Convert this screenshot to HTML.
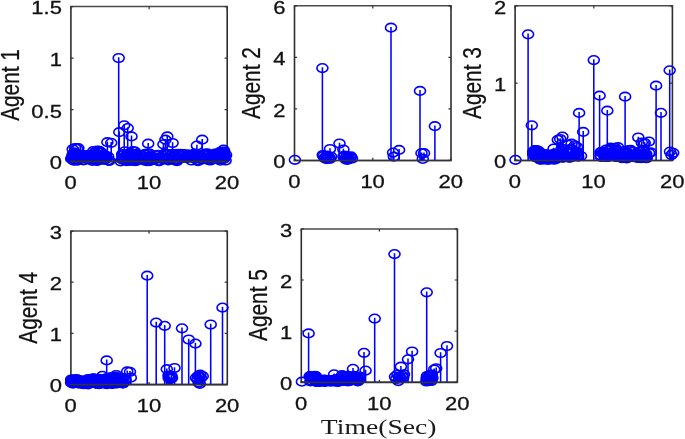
<!DOCTYPE html>
<html lang="en">
<head>
<meta charset="utf-8">
<title>Agents stem plots</title>
<style>
html,body{margin:0;padding:0;background:#fff;}
body{width:685px;height:439px;overflow:hidden;}
svg{display:block;}
</style>
</head>
<body>
<svg width="685" height="439" viewBox="0 0 685 439">
<rect width="685" height="439" fill="#fff"/>
<g>
<path d="M70.2 6.6H227.9M70.2 161.3H227.9" stroke="#4a4a4a" stroke-width="1.5" fill="none"/>
<path d="M70.9 6.6V161.3M227.2 6.6V161.3" stroke="#2e2e2e" stroke-width="1.6" fill="none"/>
<path d="M70.9 161.3v-2.6M70.9 6.6v2.6M149.1 161.3v-2.6M149.1 6.6v2.6M227.2 161.3v-2.6M227.2 6.6v2.6M70.9 6.6h2.6M227.2 6.6h-2.6M70.9 58.2h2.6M227.2 58.2h-2.6M70.9 109.7h2.6M227.2 109.7h-2.6M70.9 161.3h2.6M227.2 161.3h-2.6" stroke="#333" stroke-width="1.2" fill="none"/>
<path d="M118.7 161.3V57.2M119.3 161.3V131.4M124.2 161.3V124.5M127.7 161.3V127.3M131.5 161.3V135.6M107.4 161.3V141.4M111.2 161.3V142.0M148.2 161.3V142.9M167.3 161.3V135.6M165.4 161.3V138.9M172.6 161.3V142.2M163.4 161.3V143.5M202.2 161.3V138.9M196.9 161.3V144.8M75.0 161.3V147.2M77.0 161.3V147.8M97.0 161.3V149.8M99.5 161.3V150.0M83.6 161.3V159.6M96.4 161.3V159.9M91.9 161.3V158.3M73.3 161.3V157.3M72.5 161.3V157.8M73.7 161.3V159.9M87.6 161.3V154.8M75.8 161.3V159.2M95.5 161.3V153.8M93.5 161.3V158.1M104.5 161.3V158.8M76.6 161.3V159.7M83.0 161.3V154.9M78.0 161.3V156.7M95.9 161.3V158.2M92.4 161.3V160.0M73.3 161.3V159.3M97.5 161.3V157.8M83.3 161.3V156.7M88.7 161.3V158.7M102.0 161.3V155.9M80.5 161.3V156.8M91.5 161.3V154.4M99.4 161.3V158.8M109.2 161.3V159.7M87.3 161.3V155.4M76.9 161.3V157.4M72.5 161.3V156.1M100.8 161.3V156.8M105.1 161.3V158.6M98.1 161.3V156.7M93.6 161.3V157.7M103.8 161.3V153.9M89.5 161.3V156.1M73.4 161.3V155.8M96.2 161.3V153.5M103.1 161.3V158.8M86.0 161.3V156.1M71.9 161.3V157.6M77.6 161.3V159.7M73.3 161.3V155.3M76.0 161.3V159.0M86.2 161.3V154.5M74.1 161.3V157.7M92.4 161.3V154.4M103.0 161.3V154.5M81.9 161.3V157.9M85.0 161.3V154.4M108.4 161.3V159.6M77.9 161.3V159.1M80.1 161.3V157.4M94.0 161.3V158.9M71.2 161.3V157.9M85.4 161.3V156.9M108.2 161.3V155.9M91.1 161.3V156.5M97.4 161.3V160.0M106.1 161.3V155.2M105.1 161.3V155.1M86.3 161.3V158.0M75.0 161.3V156.4M72.9 161.3V154.9M74.0 161.3V154.4M74.9 161.3V155.0M72.5 161.3V154.4M73.2 161.3V152.9M72.7 161.3V148.4M76.8 161.3V154.5M74.3 161.3V153.1M75.0 161.3V154.6M78.4 161.3V147.3M75.8 161.3V152.0M73.1 161.3V154.7M96.4 161.3V154.2M101.3 161.3V154.7M93.2 161.3V150.3M98.3 161.3V154.7M98.4 161.3V155.1M98.3 161.3V150.1M101.6 161.3V151.9M95.6 161.3V153.7M94.7 161.3V151.4M98.3 161.3V151.4M96.3 161.3V154.4M207.4 161.3V152.6M211.7 161.3V154.4M208.1 161.3V155.0M145.9 161.3V156.9M124.9 161.3V158.8M149.3 161.3V155.4M222.6 161.3V157.5M220.6 161.3V152.6M222.5 161.3V158.2M145.2 161.3V159.2M142.7 161.3V159.3M187.7 161.3V153.5M210.4 161.3V157.2M190.7 161.3V154.4M130.9 161.3V155.7M217.7 161.3V154.6M200.9 161.3V157.3M140.8 161.3V154.5M157.0 161.3V154.4M224.2 161.3V157.9M164.2 161.3V153.0M198.2 161.3V159.5M135.4 161.3V159.7M217.2 161.3V154.4M137.4 161.3V154.2M225.1 161.3V155.7M158.9 161.3V156.7M224.1 161.3V155.8M177.4 161.3V153.1M167.6 161.3V153.7M208.9 161.3V159.3M148.5 161.3V158.7M147.3 161.3V156.3M149.3 161.3V157.7M135.8 161.3V153.4M159.2 161.3V157.4M183.4 161.3V153.4M166.3 161.3V153.3M174.8 161.3V156.8M168.3 161.3V159.5M122.4 161.3V154.4M140.1 161.3V157.3M198.3 161.3V156.6M156.3 161.3V156.9M180.4 161.3V154.6M133.2 161.3V156.6M148.1 161.3V158.8M203.2 161.3V157.0M181.1 161.3V154.8M218.0 161.3V157.5M186.4 161.3V157.0M175.9 161.3V155.4M169.6 161.3V156.8M172.3 161.3V153.1M195.6 161.3V153.7M221.1 161.3V158.9M180.9 161.3V153.1M210.4 161.3V159.7M134.8 161.3V157.6M129.6 161.3V159.1M129.7 161.3V155.6M204.5 161.3V153.5M138.2 161.3V155.2M191.5 161.3V159.7M214.9 161.3V152.8M145.1 161.3V153.0M163.9 161.3V157.2M226.1 161.3V154.1M139.0 161.3V157.6M176.2 161.3V158.4M142.6 161.3V158.5M180.3 161.3V157.6M123.9 161.3V158.4M187.6 161.3V157.0M128.8 161.3V152.6M204.9 161.3V152.8M133.0 161.3V158.9M126.2 161.3V154.6M150.5 161.3V159.8M166.4 161.3V153.4M208.2 161.3V158.9M137.7 161.3V153.3M182.0 161.3V155.3M194.4 161.3V157.7M129.6 161.3V153.1M188.7 161.3V154.4M130.8 161.3V153.9M129.0 161.3V153.8M169.7 161.3V158.4M180.2 161.3V153.2M150.2 161.3V159.8M177.4 161.3V159.1M133.5 161.3V159.6M127.3 161.3V159.3M154.8 161.3V158.6M201.9 161.3V158.7M174.6 161.3V159.5M199.1 161.3V156.6M141.9 161.3V157.3M220.3 161.3V159.9M208.2 161.3V157.6M174.1 161.3V154.1M163.4 161.3V157.0M194.4 161.3V152.7M158.1 161.3V154.1M196.3 161.3V155.9M164.6 161.3V158.3M127.7 161.3V159.8M129.4 161.3V155.0M148.9 161.3V159.6M130.9 161.3V154.0M213.6 161.3V155.6M151.7 161.3V159.1M152.8 161.3V157.4M138.6 161.3V157.5M149.7 161.3V152.9M224.3 161.3V156.7M147.7 161.3V152.8M154.6 161.3V158.2M122.1 161.3V158.0M171.9 161.3V157.1M143.1 161.3V157.0M122.5 161.3V158.9M131.4 161.3V157.9M154.0 161.3V159.1M183.6 161.3V156.8M201.0 161.3V155.7M197.3 161.3V153.7M163.0 161.3V158.5M225.6 161.3V159.7M198.2 161.3V155.8M126.6 161.3V154.1M215.8 161.3V156.0M199.2 161.3V154.3M136.7 161.3V156.9M175.1 161.3V154.1M206.7 161.3V154.2M183.4 161.3V153.5M193.8 161.3V155.4M136.0 161.3V158.2M133.0 161.3V154.1M220.9 161.3V151.6M221.9 161.3V151.2M219.9 161.3V155.2M224.3 161.3V150.7M220.1 161.3V152.2M222.4 161.3V155.0M223.5 161.3V154.0M214.1 161.3V154.0M223.4 161.3V154.3M223.5 161.3V148.9M220.0 161.3V153.2M219.8 161.3V151.2M223.9 161.3V151.6M222.1 161.3V154.9M215.1 161.3V154.0M223.6 161.3V153.7M221.1 161.3V155.2M213.9 161.3V153.9M130.7 161.3V152.0M130.8 161.3V154.1M128.7 161.3V153.3M128.1 161.3V154.9M133.6 161.3V154.5M134.7 161.3V150.6M122.2 161.3V153.3M132.7 161.3V150.4M127.8 161.3V154.2M124.7 161.3V150.5" stroke="#0000ff" stroke-width="1.55" fill="none"/>
<g fill="none" stroke="#0000ff" stroke-width="1.60">
<ellipse cx="118.7" cy="58.0" rx="5.5" ry="4.3"/>
<ellipse cx="119.3" cy="132.2" rx="5.5" ry="4.3"/>
<ellipse cx="124.2" cy="125.3" rx="5.5" ry="4.3"/>
<ellipse cx="127.7" cy="128.1" rx="5.5" ry="4.3"/>
<ellipse cx="131.5" cy="136.4" rx="5.5" ry="4.3"/>
<ellipse cx="107.4" cy="142.2" rx="5.5" ry="4.3"/>
<ellipse cx="111.2" cy="142.8" rx="5.5" ry="4.3"/>
<ellipse cx="148.2" cy="143.7" rx="5.5" ry="4.3"/>
<ellipse cx="167.3" cy="136.4" rx="5.5" ry="4.3"/>
<ellipse cx="165.4" cy="139.7" rx="5.5" ry="4.3"/>
<ellipse cx="172.6" cy="143.0" rx="5.5" ry="4.3"/>
<ellipse cx="163.4" cy="144.3" rx="5.5" ry="4.3"/>
<ellipse cx="202.2" cy="139.7" rx="5.5" ry="4.3"/>
<ellipse cx="196.9" cy="145.6" rx="5.5" ry="4.3"/>
<ellipse cx="75.0" cy="148.0" rx="5.5" ry="4.3"/>
<ellipse cx="77.0" cy="148.6" rx="5.5" ry="4.3"/>
<ellipse cx="97.0" cy="150.6" rx="5.5" ry="4.3"/>
<ellipse cx="99.5" cy="150.8" rx="5.5" ry="4.3"/>
<ellipse cx="120.6" cy="161.3" rx="5.5" ry="4.3"/>
<ellipse cx="83.6" cy="160.4" rx="5.5" ry="4.3"/>
<ellipse cx="96.4" cy="160.7" rx="5.5" ry="4.3"/>
<ellipse cx="91.9" cy="159.1" rx="5.5" ry="4.3"/>
<ellipse cx="73.3" cy="158.1" rx="5.5" ry="4.3"/>
<ellipse cx="72.5" cy="158.6" rx="5.5" ry="4.3"/>
<ellipse cx="73.7" cy="160.7" rx="5.5" ry="4.3"/>
<ellipse cx="87.6" cy="155.6" rx="5.5" ry="4.3"/>
<ellipse cx="75.8" cy="160.0" rx="5.5" ry="4.3"/>
<ellipse cx="95.5" cy="154.6" rx="5.5" ry="4.3"/>
<ellipse cx="93.5" cy="158.9" rx="5.5" ry="4.3"/>
<ellipse cx="109.1" cy="160.9" rx="5.5" ry="4.3"/>
<ellipse cx="104.5" cy="159.6" rx="5.5" ry="4.3"/>
<ellipse cx="76.6" cy="160.5" rx="5.5" ry="4.3"/>
<ellipse cx="83.0" cy="155.7" rx="5.5" ry="4.3"/>
<ellipse cx="78.0" cy="157.5" rx="5.5" ry="4.3"/>
<ellipse cx="95.9" cy="159.0" rx="5.5" ry="4.3"/>
<ellipse cx="92.4" cy="160.8" rx="5.5" ry="4.3"/>
<ellipse cx="73.3" cy="160.1" rx="5.5" ry="4.3"/>
<ellipse cx="97.5" cy="158.6" rx="5.5" ry="4.3"/>
<ellipse cx="83.3" cy="157.5" rx="5.5" ry="4.3"/>
<ellipse cx="88.7" cy="159.5" rx="5.5" ry="4.3"/>
<ellipse cx="102.0" cy="156.7" rx="5.5" ry="4.3"/>
<ellipse cx="80.5" cy="157.6" rx="5.5" ry="4.3"/>
<ellipse cx="91.5" cy="155.2" rx="5.5" ry="4.3"/>
<ellipse cx="99.4" cy="159.6" rx="5.5" ry="4.3"/>
<ellipse cx="109.2" cy="160.5" rx="5.5" ry="4.3"/>
<ellipse cx="87.3" cy="156.2" rx="5.5" ry="4.3"/>
<ellipse cx="76.9" cy="158.2" rx="5.5" ry="4.3"/>
<ellipse cx="72.5" cy="156.9" rx="5.5" ry="4.3"/>
<ellipse cx="100.8" cy="157.6" rx="5.5" ry="4.3"/>
<ellipse cx="105.1" cy="159.4" rx="5.5" ry="4.3"/>
<ellipse cx="98.1" cy="157.5" rx="5.5" ry="4.3"/>
<ellipse cx="93.6" cy="158.5" rx="5.5" ry="4.3"/>
<ellipse cx="103.8" cy="154.7" rx="5.5" ry="4.3"/>
<ellipse cx="89.5" cy="156.9" rx="5.5" ry="4.3"/>
<ellipse cx="73.4" cy="156.6" rx="5.5" ry="4.3"/>
<ellipse cx="96.2" cy="154.3" rx="5.5" ry="4.3"/>
<ellipse cx="103.1" cy="159.6" rx="5.5" ry="4.3"/>
<ellipse cx="86.0" cy="156.9" rx="5.5" ry="4.3"/>
<ellipse cx="71.9" cy="158.4" rx="5.5" ry="4.3"/>
<ellipse cx="77.6" cy="160.5" rx="5.5" ry="4.3"/>
<ellipse cx="73.3" cy="156.1" rx="5.5" ry="4.3"/>
<ellipse cx="76.0" cy="159.8" rx="5.5" ry="4.3"/>
<ellipse cx="86.2" cy="155.3" rx="5.5" ry="4.3"/>
<ellipse cx="74.1" cy="158.5" rx="5.5" ry="4.3"/>
<ellipse cx="92.4" cy="155.2" rx="5.5" ry="4.3"/>
<ellipse cx="103.0" cy="155.3" rx="5.5" ry="4.3"/>
<ellipse cx="81.9" cy="158.7" rx="5.5" ry="4.3"/>
<ellipse cx="85.0" cy="155.2" rx="5.5" ry="4.3"/>
<ellipse cx="108.4" cy="160.4" rx="5.5" ry="4.3"/>
<ellipse cx="77.9" cy="159.9" rx="5.5" ry="4.3"/>
<ellipse cx="80.1" cy="158.2" rx="5.5" ry="4.3"/>
<ellipse cx="94.0" cy="159.7" rx="5.5" ry="4.3"/>
<ellipse cx="71.2" cy="158.7" rx="5.5" ry="4.3"/>
<ellipse cx="85.4" cy="157.7" rx="5.5" ry="4.3"/>
<ellipse cx="108.2" cy="156.7" rx="5.5" ry="4.3"/>
<ellipse cx="91.1" cy="157.3" rx="5.5" ry="4.3"/>
<ellipse cx="97.4" cy="160.8" rx="5.5" ry="4.3"/>
<ellipse cx="106.1" cy="156.0" rx="5.5" ry="4.3"/>
<ellipse cx="105.1" cy="155.9" rx="5.5" ry="4.3"/>
<ellipse cx="86.3" cy="158.8" rx="5.5" ry="4.3"/>
<ellipse cx="75.0" cy="157.2" rx="5.5" ry="4.3"/>
<ellipse cx="72.9" cy="155.7" rx="5.5" ry="4.3"/>
<ellipse cx="74.0" cy="155.2" rx="5.5" ry="4.3"/>
<ellipse cx="74.9" cy="155.8" rx="5.5" ry="4.3"/>
<ellipse cx="72.5" cy="155.2" rx="5.5" ry="4.3"/>
<ellipse cx="73.2" cy="153.7" rx="5.5" ry="4.3"/>
<ellipse cx="72.7" cy="149.2" rx="5.5" ry="4.3"/>
<ellipse cx="76.8" cy="155.3" rx="5.5" ry="4.3"/>
<ellipse cx="74.3" cy="153.9" rx="5.5" ry="4.3"/>
<ellipse cx="75.0" cy="155.4" rx="5.5" ry="4.3"/>
<ellipse cx="78.4" cy="148.1" rx="5.5" ry="4.3"/>
<ellipse cx="75.8" cy="152.8" rx="5.5" ry="4.3"/>
<ellipse cx="73.1" cy="155.5" rx="5.5" ry="4.3"/>
<ellipse cx="96.4" cy="155.0" rx="5.5" ry="4.3"/>
<ellipse cx="101.3" cy="155.5" rx="5.5" ry="4.3"/>
<ellipse cx="93.2" cy="151.1" rx="5.5" ry="4.3"/>
<ellipse cx="98.3" cy="155.5" rx="5.5" ry="4.3"/>
<ellipse cx="98.4" cy="155.9" rx="5.5" ry="4.3"/>
<ellipse cx="98.3" cy="150.9" rx="5.5" ry="4.3"/>
<ellipse cx="101.6" cy="152.7" rx="5.5" ry="4.3"/>
<ellipse cx="95.6" cy="154.5" rx="5.5" ry="4.3"/>
<ellipse cx="94.7" cy="152.2" rx="5.5" ry="4.3"/>
<ellipse cx="98.3" cy="152.2" rx="5.5" ry="4.3"/>
<ellipse cx="96.3" cy="155.2" rx="5.5" ry="4.3"/>
<ellipse cx="207.4" cy="153.4" rx="5.5" ry="4.3"/>
<ellipse cx="211.7" cy="155.2" rx="5.5" ry="4.3"/>
<ellipse cx="208.1" cy="155.8" rx="5.5" ry="4.3"/>
<ellipse cx="145.9" cy="157.7" rx="5.5" ry="4.3"/>
<ellipse cx="159.4" cy="161.1" rx="5.5" ry="4.3"/>
<ellipse cx="124.9" cy="159.6" rx="5.5" ry="4.3"/>
<ellipse cx="149.3" cy="156.2" rx="5.5" ry="4.3"/>
<ellipse cx="222.6" cy="158.3" rx="5.5" ry="4.3"/>
<ellipse cx="220.6" cy="153.4" rx="5.5" ry="4.3"/>
<ellipse cx="222.5" cy="159.0" rx="5.5" ry="4.3"/>
<ellipse cx="145.2" cy="160.0" rx="5.5" ry="4.3"/>
<ellipse cx="142.7" cy="160.1" rx="5.5" ry="4.3"/>
<ellipse cx="187.7" cy="154.3" rx="5.5" ry="4.3"/>
<ellipse cx="210.4" cy="158.0" rx="5.5" ry="4.3"/>
<ellipse cx="190.7" cy="155.2" rx="5.5" ry="4.3"/>
<ellipse cx="130.9" cy="156.5" rx="5.5" ry="4.3"/>
<ellipse cx="217.7" cy="155.4" rx="5.5" ry="4.3"/>
<ellipse cx="200.9" cy="158.1" rx="5.5" ry="4.3"/>
<ellipse cx="140.8" cy="155.3" rx="5.5" ry="4.3"/>
<ellipse cx="157.0" cy="155.2" rx="5.5" ry="4.3"/>
<ellipse cx="224.2" cy="158.7" rx="5.5" ry="4.3"/>
<ellipse cx="164.2" cy="153.8" rx="5.5" ry="4.3"/>
<ellipse cx="198.2" cy="160.3" rx="5.5" ry="4.3"/>
<ellipse cx="135.4" cy="160.5" rx="5.5" ry="4.3"/>
<ellipse cx="217.2" cy="155.2" rx="5.5" ry="4.3"/>
<ellipse cx="137.4" cy="155.0" rx="5.5" ry="4.3"/>
<ellipse cx="225.1" cy="156.5" rx="5.5" ry="4.3"/>
<ellipse cx="158.9" cy="157.5" rx="5.5" ry="4.3"/>
<ellipse cx="135.8" cy="161.2" rx="5.5" ry="4.3"/>
<ellipse cx="224.1" cy="156.6" rx="5.5" ry="4.3"/>
<ellipse cx="177.4" cy="153.9" rx="5.5" ry="4.3"/>
<ellipse cx="167.6" cy="154.5" rx="5.5" ry="4.3"/>
<ellipse cx="208.9" cy="160.1" rx="5.5" ry="4.3"/>
<ellipse cx="148.5" cy="159.5" rx="5.5" ry="4.3"/>
<ellipse cx="147.3" cy="157.1" rx="5.5" ry="4.3"/>
<ellipse cx="149.3" cy="158.5" rx="5.5" ry="4.3"/>
<ellipse cx="135.8" cy="154.2" rx="5.5" ry="4.3"/>
<ellipse cx="159.2" cy="158.2" rx="5.5" ry="4.3"/>
<ellipse cx="183.4" cy="154.2" rx="5.5" ry="4.3"/>
<ellipse cx="166.3" cy="154.1" rx="5.5" ry="4.3"/>
<ellipse cx="174.8" cy="157.6" rx="5.5" ry="4.3"/>
<ellipse cx="177.1" cy="161.1" rx="5.5" ry="4.3"/>
<ellipse cx="168.3" cy="160.3" rx="5.5" ry="4.3"/>
<ellipse cx="122.4" cy="155.2" rx="5.5" ry="4.3"/>
<ellipse cx="140.1" cy="158.1" rx="5.5" ry="4.3"/>
<ellipse cx="198.3" cy="157.4" rx="5.5" ry="4.3"/>
<ellipse cx="156.3" cy="157.7" rx="5.5" ry="4.3"/>
<ellipse cx="180.4" cy="155.4" rx="5.5" ry="4.3"/>
<ellipse cx="133.2" cy="157.4" rx="5.5" ry="4.3"/>
<ellipse cx="148.1" cy="159.6" rx="5.5" ry="4.3"/>
<ellipse cx="203.2" cy="157.8" rx="5.5" ry="4.3"/>
<ellipse cx="181.1" cy="155.6" rx="5.5" ry="4.3"/>
<ellipse cx="218.0" cy="158.3" rx="5.5" ry="4.3"/>
<ellipse cx="186.4" cy="157.8" rx="5.5" ry="4.3"/>
<ellipse cx="175.9" cy="156.2" rx="5.5" ry="4.3"/>
<ellipse cx="169.6" cy="157.6" rx="5.5" ry="4.3"/>
<ellipse cx="172.3" cy="153.9" rx="5.5" ry="4.3"/>
<ellipse cx="195.6" cy="154.5" rx="5.5" ry="4.3"/>
<ellipse cx="221.1" cy="159.7" rx="5.5" ry="4.3"/>
<ellipse cx="180.9" cy="153.9" rx="5.5" ry="4.3"/>
<ellipse cx="210.4" cy="160.5" rx="5.5" ry="4.3"/>
<ellipse cx="134.8" cy="158.4" rx="5.5" ry="4.3"/>
<ellipse cx="129.6" cy="159.9" rx="5.5" ry="4.3"/>
<ellipse cx="129.7" cy="156.4" rx="5.5" ry="4.3"/>
<ellipse cx="204.5" cy="154.3" rx="5.5" ry="4.3"/>
<ellipse cx="138.2" cy="156.0" rx="5.5" ry="4.3"/>
<ellipse cx="191.5" cy="160.5" rx="5.5" ry="4.3"/>
<ellipse cx="214.9" cy="153.6" rx="5.5" ry="4.3"/>
<ellipse cx="145.1" cy="153.8" rx="5.5" ry="4.3"/>
<ellipse cx="163.9" cy="158.0" rx="5.5" ry="4.3"/>
<ellipse cx="226.1" cy="154.9" rx="5.5" ry="4.3"/>
<ellipse cx="139.0" cy="158.4" rx="5.5" ry="4.3"/>
<ellipse cx="176.2" cy="159.2" rx="5.5" ry="4.3"/>
<ellipse cx="142.6" cy="159.3" rx="5.5" ry="4.3"/>
<ellipse cx="198.0" cy="161.1" rx="5.5" ry="4.3"/>
<ellipse cx="180.3" cy="158.4" rx="5.5" ry="4.3"/>
<ellipse cx="123.9" cy="159.2" rx="5.5" ry="4.3"/>
<ellipse cx="187.6" cy="157.8" rx="5.5" ry="4.3"/>
<ellipse cx="128.8" cy="153.4" rx="5.5" ry="4.3"/>
<ellipse cx="204.9" cy="153.6" rx="5.5" ry="4.3"/>
<ellipse cx="133.0" cy="159.7" rx="5.5" ry="4.3"/>
<ellipse cx="126.2" cy="155.4" rx="5.5" ry="4.3"/>
<ellipse cx="150.5" cy="160.6" rx="5.5" ry="4.3"/>
<ellipse cx="166.4" cy="154.2" rx="5.5" ry="4.3"/>
<ellipse cx="208.2" cy="159.7" rx="5.5" ry="4.3"/>
<ellipse cx="137.7" cy="154.1" rx="5.5" ry="4.3"/>
<ellipse cx="182.0" cy="156.1" rx="5.5" ry="4.3"/>
<ellipse cx="131.4" cy="161.0" rx="5.5" ry="4.3"/>
<ellipse cx="194.4" cy="158.5" rx="5.5" ry="4.3"/>
<ellipse cx="129.6" cy="153.9" rx="5.5" ry="4.3"/>
<ellipse cx="188.7" cy="155.2" rx="5.5" ry="4.3"/>
<ellipse cx="130.8" cy="154.7" rx="5.5" ry="4.3"/>
<ellipse cx="129.0" cy="154.6" rx="5.5" ry="4.3"/>
<ellipse cx="169.7" cy="159.2" rx="5.5" ry="4.3"/>
<ellipse cx="180.2" cy="154.0" rx="5.5" ry="4.3"/>
<ellipse cx="150.2" cy="160.6" rx="5.5" ry="4.3"/>
<ellipse cx="177.4" cy="159.9" rx="5.5" ry="4.3"/>
<ellipse cx="133.5" cy="160.4" rx="5.5" ry="4.3"/>
<ellipse cx="127.3" cy="160.1" rx="5.5" ry="4.3"/>
<ellipse cx="154.8" cy="159.4" rx="5.5" ry="4.3"/>
<ellipse cx="201.9" cy="159.5" rx="5.5" ry="4.3"/>
<ellipse cx="174.6" cy="160.3" rx="5.5" ry="4.3"/>
<ellipse cx="158.5" cy="161.1" rx="5.5" ry="4.3"/>
<ellipse cx="148.3" cy="161.2" rx="5.5" ry="4.3"/>
<ellipse cx="199.1" cy="157.4" rx="5.5" ry="4.3"/>
<ellipse cx="141.9" cy="158.1" rx="5.5" ry="4.3"/>
<ellipse cx="220.3" cy="160.7" rx="5.5" ry="4.3"/>
<ellipse cx="208.2" cy="158.4" rx="5.5" ry="4.3"/>
<ellipse cx="174.1" cy="154.9" rx="5.5" ry="4.3"/>
<ellipse cx="163.4" cy="157.8" rx="5.5" ry="4.3"/>
<ellipse cx="194.4" cy="153.5" rx="5.5" ry="4.3"/>
<ellipse cx="158.1" cy="154.9" rx="5.5" ry="4.3"/>
<ellipse cx="196.3" cy="156.7" rx="5.5" ry="4.3"/>
<ellipse cx="164.6" cy="159.1" rx="5.5" ry="4.3"/>
<ellipse cx="127.7" cy="160.6" rx="5.5" ry="4.3"/>
<ellipse cx="129.4" cy="155.8" rx="5.5" ry="4.3"/>
<ellipse cx="148.9" cy="160.4" rx="5.5" ry="4.3"/>
<ellipse cx="130.9" cy="154.8" rx="5.5" ry="4.3"/>
<ellipse cx="213.6" cy="156.4" rx="5.5" ry="4.3"/>
<ellipse cx="151.7" cy="159.9" rx="5.5" ry="4.3"/>
<ellipse cx="152.8" cy="158.2" rx="5.5" ry="4.3"/>
<ellipse cx="138.6" cy="158.3" rx="5.5" ry="4.3"/>
<ellipse cx="149.7" cy="153.7" rx="5.5" ry="4.3"/>
<ellipse cx="224.3" cy="157.5" rx="5.5" ry="4.3"/>
<ellipse cx="147.7" cy="153.6" rx="5.5" ry="4.3"/>
<ellipse cx="154.6" cy="159.0" rx="5.5" ry="4.3"/>
<ellipse cx="122.1" cy="158.8" rx="5.5" ry="4.3"/>
<ellipse cx="171.9" cy="157.9" rx="5.5" ry="4.3"/>
<ellipse cx="143.1" cy="157.8" rx="5.5" ry="4.3"/>
<ellipse cx="122.5" cy="159.7" rx="5.5" ry="4.3"/>
<ellipse cx="131.4" cy="158.7" rx="5.5" ry="4.3"/>
<ellipse cx="126.4" cy="161.1" rx="5.5" ry="4.3"/>
<ellipse cx="154.0" cy="159.9" rx="5.5" ry="4.3"/>
<ellipse cx="183.6" cy="157.6" rx="5.5" ry="4.3"/>
<ellipse cx="201.0" cy="156.5" rx="5.5" ry="4.3"/>
<ellipse cx="197.3" cy="154.5" rx="5.5" ry="4.3"/>
<ellipse cx="163.0" cy="159.3" rx="5.5" ry="4.3"/>
<ellipse cx="225.6" cy="160.5" rx="5.5" ry="4.3"/>
<ellipse cx="198.2" cy="156.6" rx="5.5" ry="4.3"/>
<ellipse cx="126.6" cy="154.9" rx="5.5" ry="4.3"/>
<ellipse cx="215.8" cy="156.8" rx="5.5" ry="4.3"/>
<ellipse cx="199.2" cy="155.1" rx="5.5" ry="4.3"/>
<ellipse cx="136.7" cy="157.7" rx="5.5" ry="4.3"/>
<ellipse cx="175.1" cy="154.9" rx="5.5" ry="4.3"/>
<ellipse cx="206.7" cy="155.0" rx="5.5" ry="4.3"/>
<ellipse cx="183.4" cy="154.3" rx="5.5" ry="4.3"/>
<ellipse cx="193.8" cy="156.2" rx="5.5" ry="4.3"/>
<ellipse cx="146.2" cy="161.1" rx="5.5" ry="4.3"/>
<ellipse cx="136.0" cy="159.0" rx="5.5" ry="4.3"/>
<ellipse cx="133.0" cy="154.9" rx="5.5" ry="4.3"/>
<ellipse cx="220.9" cy="152.4" rx="5.5" ry="4.3"/>
<ellipse cx="221.9" cy="152.0" rx="5.5" ry="4.3"/>
<ellipse cx="219.9" cy="156.0" rx="5.5" ry="4.3"/>
<ellipse cx="224.3" cy="151.5" rx="5.5" ry="4.3"/>
<ellipse cx="220.1" cy="153.0" rx="5.5" ry="4.3"/>
<ellipse cx="222.4" cy="155.8" rx="5.5" ry="4.3"/>
<ellipse cx="223.5" cy="154.8" rx="5.5" ry="4.3"/>
<ellipse cx="214.1" cy="154.8" rx="5.5" ry="4.3"/>
<ellipse cx="223.4" cy="155.1" rx="5.5" ry="4.3"/>
<ellipse cx="223.5" cy="149.7" rx="5.5" ry="4.3"/>
<ellipse cx="220.0" cy="154.0" rx="5.5" ry="4.3"/>
<ellipse cx="219.8" cy="152.0" rx="5.5" ry="4.3"/>
<ellipse cx="223.9" cy="152.4" rx="5.5" ry="4.3"/>
<ellipse cx="222.1" cy="155.7" rx="5.5" ry="4.3"/>
<ellipse cx="215.1" cy="154.8" rx="5.5" ry="4.3"/>
<ellipse cx="223.6" cy="154.5" rx="5.5" ry="4.3"/>
<ellipse cx="221.1" cy="156.0" rx="5.5" ry="4.3"/>
<ellipse cx="213.9" cy="154.7" rx="5.5" ry="4.3"/>
<ellipse cx="130.7" cy="152.8" rx="5.5" ry="4.3"/>
<ellipse cx="130.8" cy="154.9" rx="5.5" ry="4.3"/>
<ellipse cx="128.7" cy="154.1" rx="5.5" ry="4.3"/>
<ellipse cx="128.1" cy="155.7" rx="5.5" ry="4.3"/>
<ellipse cx="133.6" cy="155.3" rx="5.5" ry="4.3"/>
<ellipse cx="134.7" cy="151.4" rx="5.5" ry="4.3"/>
<ellipse cx="122.2" cy="154.1" rx="5.5" ry="4.3"/>
<ellipse cx="132.7" cy="151.2" rx="5.5" ry="4.3"/>
<ellipse cx="127.8" cy="155.0" rx="5.5" ry="4.3"/>
<ellipse cx="124.7" cy="151.3" rx="5.5" ry="4.3"/>
</g>
<path d="M70.1 161.6H227.5" stroke="#333" stroke-width="2.0" fill="none"/>
<g font-family="'Liberation Sans', Arial, Helvetica, sans-serif" font-size="18.7" fill="#111" stroke="#111" stroke-width="0.3">
<text text-anchor="end" transform="translate(61.9 14.4) scale(1.175 1)">1.5</text>
<text text-anchor="end" transform="translate(61.9 66.0) scale(1.175 1)">1</text>
<text text-anchor="end" transform="translate(61.9 117.5) scale(1.175 1)">0.5</text>
<text text-anchor="end" transform="translate(61.9 169.1) scale(1.175 1)">0</text>
<text text-anchor="middle" transform="translate(70.7 188.6) scale(1.175 1)">0</text>
<text text-anchor="middle" transform="translate(148.9 188.6) scale(1.175 1)">10</text>
<text text-anchor="middle" transform="translate(227.0 188.6) scale(1.175 1)">20</text>
</g>
<text font-family="'Liberation Sans', Arial, Helvetica, sans-serif" font-size="25.0" fill="#111" stroke="#111" stroke-width="0.25" text-anchor="middle" transform="translate(18.5 85.0) rotate(-90) scale(0.832 1)">Agent 1</text>
</g>
<g>
<path d="M293.8 5.8H451.7M293.8 160.4H451.7" stroke="#4a4a4a" stroke-width="1.5" fill="none"/>
<path d="M294.5 5.8V160.4M451.0 5.8V160.4" stroke="#2e2e2e" stroke-width="1.6" fill="none"/>
<path d="M294.5 160.4v-2.6M294.5 5.8v2.6M372.8 160.4v-2.6M372.8 5.8v2.6M451.0 160.4v-2.6M451.0 5.8v2.6M294.5 5.8h2.6M451.0 5.8h-2.6M294.5 57.3h2.6M451.0 57.3h-2.6M294.5 108.9h2.6M451.0 108.9h-2.6M294.5 160.4h2.6M451.0 160.4h-2.6" stroke="#333" stroke-width="1.2" fill="none"/>
<path d="M294.9 160.4V159.0M322.4 160.4V67.3M391.0 160.4V26.9M420.0 160.4V90.1M434.9 160.4V125.4M339.5 160.4V142.7M330.0 160.4V148.2M343.4 160.4V148.7M323.5 160.4V155.2M325.5 160.4V156.7M327.0 160.4V154.7M329.0 160.4V156.2M331.0 160.4V155.7M324.5 160.4V157.2M328.0 160.4V157.7M322.8 160.4V154.2M326.5 160.4V158.4M330.0 160.4V158.0M343.5 160.4V155.7M345.5 160.4V157.2M347.0 160.4V155.2M349.0 160.4V158.2M350.5 160.4V156.7M352.0 160.4V157.7M346.0 160.4V158.7M348.5 160.4V156.2M344.5 160.4V154.7M351.0 160.4V155.5M347.5 160.4V159.0M393.1 160.4V151.8M399.1 160.4V149.1M393.8 160.4V155.8M421.5 160.4V152.4M424.0 160.4V152.4M422.8 160.4V158.1" stroke="#0000ff" stroke-width="1.55" fill="none"/>
<g fill="none" stroke="#0000ff" stroke-width="1.60">
<ellipse cx="294.9" cy="159.8" rx="5.5" ry="4.3"/>
<ellipse cx="322.4" cy="68.1" rx="5.5" ry="4.3"/>
<ellipse cx="391.0" cy="27.7" rx="5.5" ry="4.3"/>
<ellipse cx="420.0" cy="90.9" rx="5.5" ry="4.3"/>
<ellipse cx="434.9" cy="126.2" rx="5.5" ry="4.3"/>
<ellipse cx="339.5" cy="143.5" rx="5.5" ry="4.3"/>
<ellipse cx="330.0" cy="149.0" rx="5.5" ry="4.3"/>
<ellipse cx="343.4" cy="149.5" rx="5.5" ry="4.3"/>
<ellipse cx="323.5" cy="156.0" rx="5.5" ry="4.3"/>
<ellipse cx="325.5" cy="157.5" rx="5.5" ry="4.3"/>
<ellipse cx="327.0" cy="155.5" rx="5.5" ry="4.3"/>
<ellipse cx="329.0" cy="157.0" rx="5.5" ry="4.3"/>
<ellipse cx="331.0" cy="156.5" rx="5.5" ry="4.3"/>
<ellipse cx="324.5" cy="158.0" rx="5.5" ry="4.3"/>
<ellipse cx="328.0" cy="158.5" rx="5.5" ry="4.3"/>
<ellipse cx="322.8" cy="155.0" rx="5.5" ry="4.3"/>
<ellipse cx="326.5" cy="159.2" rx="5.5" ry="4.3"/>
<ellipse cx="330.0" cy="158.8" rx="5.5" ry="4.3"/>
<ellipse cx="343.5" cy="156.5" rx="5.5" ry="4.3"/>
<ellipse cx="345.5" cy="158.0" rx="5.5" ry="4.3"/>
<ellipse cx="347.0" cy="156.0" rx="5.5" ry="4.3"/>
<ellipse cx="349.0" cy="159.0" rx="5.5" ry="4.3"/>
<ellipse cx="350.5" cy="157.5" rx="5.5" ry="4.3"/>
<ellipse cx="352.0" cy="158.5" rx="5.5" ry="4.3"/>
<ellipse cx="346.0" cy="159.5" rx="5.5" ry="4.3"/>
<ellipse cx="348.5" cy="157.0" rx="5.5" ry="4.3"/>
<ellipse cx="344.5" cy="155.5" rx="5.5" ry="4.3"/>
<ellipse cx="351.0" cy="156.3" rx="5.5" ry="4.3"/>
<ellipse cx="347.5" cy="159.8" rx="5.5" ry="4.3"/>
<ellipse cx="393.1" cy="152.6" rx="5.5" ry="4.3"/>
<ellipse cx="399.1" cy="149.9" rx="5.5" ry="4.3"/>
<ellipse cx="393.8" cy="156.6" rx="5.5" ry="4.3"/>
<ellipse cx="421.5" cy="153.2" rx="5.5" ry="4.3"/>
<ellipse cx="424.0" cy="153.2" rx="5.5" ry="4.3"/>
<ellipse cx="422.8" cy="158.9" rx="5.5" ry="4.3"/>
</g>
<path d="M293.7 160.4H451.3" stroke="#333" stroke-width="1.5" fill="none"/>
<g font-family="'Liberation Sans', Arial, Helvetica, sans-serif" font-size="18.7" fill="#111" stroke="#111" stroke-width="0.3">
<text text-anchor="end" transform="translate(285.5 13.6) scale(1.175 1)">6</text>
<text text-anchor="end" transform="translate(285.5 65.1) scale(1.175 1)">4</text>
<text text-anchor="end" transform="translate(285.5 116.7) scale(1.175 1)">2</text>
<text text-anchor="end" transform="translate(285.5 168.2) scale(1.175 1)">0</text>
<text text-anchor="middle" transform="translate(294.3 187.7) scale(1.175 1)">0</text>
<text text-anchor="middle" transform="translate(372.6 187.7) scale(1.175 1)">10</text>
<text text-anchor="middle" transform="translate(450.8 187.7) scale(1.175 1)">20</text>
</g>
<text font-family="'Liberation Sans', Arial, Helvetica, sans-serif" font-size="25.0" fill="#111" stroke="#111" stroke-width="0.25" text-anchor="middle" transform="translate(260.2 83.1) rotate(-90) scale(0.832 1)">Agent 2</text>
</g>
<g>
<path d="M514.4 5.8H673.1M514.4 160.4H673.1" stroke="#4a4a4a" stroke-width="1.5" fill="none"/>
<path d="M515.1 5.8V160.4M672.4 5.8V160.4" stroke="#2e2e2e" stroke-width="1.6" fill="none"/>
<path d="M515.1 160.4v-2.6M515.1 5.8v2.6M593.8 160.4v-2.6M593.8 5.8v2.6M672.4 160.4v-2.6M672.4 5.8v2.6M515.1 5.8h2.6M672.4 5.8h-2.6M515.1 83.1h2.6M672.4 83.1h-2.6M515.1 160.4h2.6M672.4 160.4h-2.6" stroke="#333" stroke-width="1.2" fill="none"/>
<path d="M515.5 160.4V159.0M528.1 160.4V33.5M531.8 160.4V124.5M579.1 160.4V112.1M583.2 160.4V131.1M593.8 160.4V59.3M599.6 160.4V94.9M607.3 160.4V109.9M625.1 160.4V95.9M656.1 160.4V84.9M661.0 160.4V112.0M669.7 160.4V69.5M638.3 160.4V136.7M648.9 160.4V140.7M641.8 160.4V141.8M553.6 160.4V147.8M571.6 160.4V142.8M574.8 160.4V144.5M568.3 160.4V143.9M581.0 160.4V155.2M670.0 160.4V150.8M673.2 160.4V152.0M649.0 160.4V152.2M671.5 160.4V154.2M534.6 160.4V152.4M534.2 160.4V152.9M539.7 160.4V155.6M538.8 160.4V153.0M539.2 160.4V151.4M534.8 160.4V149.7M536.5 160.4V156.1M533.2 160.4V153.2M536.3 160.4V154.5M534.2 160.4V154.3M535.3 160.4V150.2M533.2 160.4V151.0M538.9 160.4V155.7M539.5 160.4V151.4M539.3 160.4V154.6M535.7 160.4V153.9M540.0 160.4V152.4M535.7 160.4V153.6M535.1 160.4V156.0M533.9 160.4V150.3M535.1 160.4V149.4M534.9 160.4V154.8M536.7 160.4V155.3M535.7 160.4V149.2M539.2 160.4V150.5M537.5 160.4V149.6M539.6 160.4V152.7M538.1 160.4V156.0M538.2 160.4V153.5M538.3 160.4V151.9M535.1 160.4V156.0M539.5 160.4V155.6M536.4 160.4V154.3M535.2 160.4V151.1M555.6 160.4V157.8M549.8 160.4V157.6M548.0 160.4V157.1M541.0 160.4V158.4M541.7 160.4V153.5M546.9 160.4V158.1M554.3 160.4V152.8M546.1 160.4V158.5M541.5 160.4V158.7M544.2 160.4V158.7M542.3 160.4V157.9M548.3 160.4V153.7M551.5 160.4V156.9M545.4 160.4V156.2M544.8 160.4V157.4M539.1 160.4V157.8M555.4 160.4V158.5M547.1 160.4V155.5M553.5 160.4V158.1M542.9 160.4V157.9M545.2 160.4V156.7M555.2 160.4V153.9M553.7 160.4V158.9M538.6 160.4V155.0M554.1 160.4V156.6M548.6 160.4V159.0M545.0 160.4V153.4M552.9 160.4V153.9M555.5 160.4V157.9M540.0 160.4V158.4M547.4 160.4V155.2M554.9 160.4V154.9M549.7 160.4V154.6M546.2 160.4V156.1M538.7 160.4V154.4M542.2 160.4V153.4M549.6 160.4V157.6M540.3 160.4V157.9M549.5 160.4V155.0M540.0 160.4V158.8M568.0 160.4V152.3M565.1 160.4V155.6M569.6 160.4V157.0M563.3 160.4V153.5M577.1 160.4V151.6M575.6 160.4V153.3M561.9 160.4V155.4M577.2 160.4V151.0M563.5 160.4V156.9M567.5 160.4V151.3M565.8 160.4V155.3M571.0 160.4V148.6M561.8 160.4V156.9M564.1 160.4V153.9M571.3 160.4V155.8M573.7 160.4V150.6M567.6 160.4V155.7M577.4 160.4V154.8M574.2 160.4V155.5M561.7 160.4V150.4M563.2 160.4V148.3M567.4 160.4V155.9M561.7 160.4V153.9M571.0 160.4V148.3M560.1 160.4V154.1M561.5 160.4V148.0M557.8 160.4V139.0M560.2 160.4V138.2M562.4 160.4V135.8M577.0 160.4V146.2M578.2 160.4V155.8M601.1 160.4V156.1M600.6 160.4V154.6M605.9 160.4V151.9M604.8 160.4V151.2M606.1 160.4V155.0M601.4 160.4V151.6M604.9 160.4V156.1M604.4 160.4V154.7M600.6 160.4V151.4M603.0 160.4V151.8M610.7 160.4V153.6M608.1 160.4V156.2M609.5 160.4V153.4M617.9 160.4V155.4M618.1 160.4V154.7M610.5 160.4V148.1M616.3 160.4V152.6M606.6 160.4V152.1M610.7 160.4V146.8M608.4 160.4V153.3M617.2 160.4V156.1M611.1 160.4V148.2M615.6 160.4V156.0M606.4 160.4V155.9M617.5 160.4V154.3M615.3 160.4V147.1M610.2 160.4V154.2M618.0 160.4V150.5M609.3 160.4V149.3M610.0 160.4V154.1M606.0 160.4V148.9M617.5 160.4V150.3M617.8 160.4V156.1M608.9 160.4V152.1M618.0 160.4V146.4M610.8 160.4V154.4M611.4 160.4V151.9M617.6 160.4V155.0M616.0 160.4V149.1M616.3 160.4V148.7M636.4 160.4V155.6M628.6 160.4V155.3M641.1 160.4V157.4M625.3 160.4V151.6M626.7 160.4V157.5M620.9 160.4V153.6M628.8 160.4V149.2M643.9 160.4V149.1M627.2 160.4V157.4M622.6 160.4V154.1M639.2 160.4V154.6M626.3 160.4V154.9M636.7 160.4V152.4M640.2 160.4V150.6M637.9 160.4V157.2M642.7 160.4V155.9M635.3 160.4V155.2M639.9 160.4V156.6M626.7 160.4V156.3M624.1 160.4V150.3M635.6 160.4V155.6M630.7 160.4V149.1M633.7 160.4V156.4M641.8 160.4V152.6M646.8 160.4V157.3M632.8 160.4V150.9M642.7 160.4V149.9M621.1 160.4V155.9M623.2 160.4V156.7M646.3 160.4V153.3M645.1 160.4V155.2M643.4 160.4V154.6M627.0 160.4V151.4M645.5 160.4V157.3M636.1 160.4V153.0M625.9 160.4V155.3M623.8 160.4V156.6M626.9 160.4V153.2M637.6 160.4V156.6M620.3 160.4V155.6M638.3 160.4V156.7M628.4 160.4V156.6M641.5 160.4V153.7M621.7 160.4V157.3M644.7 160.4V142.2M650.8 160.4V151.6" stroke="#0000ff" stroke-width="1.55" fill="none"/>
<g fill="none" stroke="#0000ff" stroke-width="1.60">
<ellipse cx="515.5" cy="159.8" rx="5.5" ry="4.3"/>
<ellipse cx="528.1" cy="34.3" rx="5.5" ry="4.3"/>
<ellipse cx="531.8" cy="125.3" rx="5.5" ry="4.3"/>
<ellipse cx="579.1" cy="112.9" rx="5.5" ry="4.3"/>
<ellipse cx="583.2" cy="131.9" rx="5.5" ry="4.3"/>
<ellipse cx="593.8" cy="60.1" rx="5.5" ry="4.3"/>
<ellipse cx="599.6" cy="95.7" rx="5.5" ry="4.3"/>
<ellipse cx="607.3" cy="110.7" rx="5.5" ry="4.3"/>
<ellipse cx="625.1" cy="96.7" rx="5.5" ry="4.3"/>
<ellipse cx="656.1" cy="85.7" rx="5.5" ry="4.3"/>
<ellipse cx="661.0" cy="112.8" rx="5.5" ry="4.3"/>
<ellipse cx="669.7" cy="70.3" rx="5.5" ry="4.3"/>
<ellipse cx="638.3" cy="137.5" rx="5.5" ry="4.3"/>
<ellipse cx="648.9" cy="141.5" rx="5.5" ry="4.3"/>
<ellipse cx="641.8" cy="142.6" rx="5.5" ry="4.3"/>
<ellipse cx="553.6" cy="148.6" rx="5.5" ry="4.3"/>
<ellipse cx="571.6" cy="143.6" rx="5.5" ry="4.3"/>
<ellipse cx="574.8" cy="145.3" rx="5.5" ry="4.3"/>
<ellipse cx="568.3" cy="144.7" rx="5.5" ry="4.3"/>
<ellipse cx="581.0" cy="156.0" rx="5.5" ry="4.3"/>
<ellipse cx="670.0" cy="151.6" rx="5.5" ry="4.3"/>
<ellipse cx="673.2" cy="152.8" rx="5.5" ry="4.3"/>
<ellipse cx="649.0" cy="153.0" rx="5.5" ry="4.3"/>
<ellipse cx="671.5" cy="155.0" rx="5.5" ry="4.3"/>
<ellipse cx="534.6" cy="153.2" rx="5.5" ry="4.3"/>
<ellipse cx="534.2" cy="153.7" rx="5.5" ry="4.3"/>
<ellipse cx="539.7" cy="156.4" rx="5.5" ry="4.3"/>
<ellipse cx="538.8" cy="153.8" rx="5.5" ry="4.3"/>
<ellipse cx="539.2" cy="152.2" rx="5.5" ry="4.3"/>
<ellipse cx="534.8" cy="150.5" rx="5.5" ry="4.3"/>
<ellipse cx="536.5" cy="156.9" rx="5.5" ry="4.3"/>
<ellipse cx="533.2" cy="154.0" rx="5.5" ry="4.3"/>
<ellipse cx="536.3" cy="155.3" rx="5.5" ry="4.3"/>
<ellipse cx="534.2" cy="155.1" rx="5.5" ry="4.3"/>
<ellipse cx="535.3" cy="151.0" rx="5.5" ry="4.3"/>
<ellipse cx="533.2" cy="151.8" rx="5.5" ry="4.3"/>
<ellipse cx="538.9" cy="156.5" rx="5.5" ry="4.3"/>
<ellipse cx="539.5" cy="152.2" rx="5.5" ry="4.3"/>
<ellipse cx="539.3" cy="155.4" rx="5.5" ry="4.3"/>
<ellipse cx="535.7" cy="154.7" rx="5.5" ry="4.3"/>
<ellipse cx="540.0" cy="153.2" rx="5.5" ry="4.3"/>
<ellipse cx="535.7" cy="154.4" rx="5.5" ry="4.3"/>
<ellipse cx="535.1" cy="156.8" rx="5.5" ry="4.3"/>
<ellipse cx="533.9" cy="151.1" rx="5.5" ry="4.3"/>
<ellipse cx="535.1" cy="150.2" rx="5.5" ry="4.3"/>
<ellipse cx="534.9" cy="155.6" rx="5.5" ry="4.3"/>
<ellipse cx="536.7" cy="156.1" rx="5.5" ry="4.3"/>
<ellipse cx="535.7" cy="150.0" rx="5.5" ry="4.3"/>
<ellipse cx="539.2" cy="151.3" rx="5.5" ry="4.3"/>
<ellipse cx="537.5" cy="150.4" rx="5.5" ry="4.3"/>
<ellipse cx="539.6" cy="153.5" rx="5.5" ry="4.3"/>
<ellipse cx="538.1" cy="156.8" rx="5.5" ry="4.3"/>
<ellipse cx="538.2" cy="154.3" rx="5.5" ry="4.3"/>
<ellipse cx="538.3" cy="152.7" rx="5.5" ry="4.3"/>
<ellipse cx="535.1" cy="156.8" rx="5.5" ry="4.3"/>
<ellipse cx="539.5" cy="156.4" rx="5.5" ry="4.3"/>
<ellipse cx="536.4" cy="155.1" rx="5.5" ry="4.3"/>
<ellipse cx="535.2" cy="151.9" rx="5.5" ry="4.3"/>
<ellipse cx="555.6" cy="158.6" rx="5.5" ry="4.3"/>
<ellipse cx="549.8" cy="158.4" rx="5.5" ry="4.3"/>
<ellipse cx="548.0" cy="157.9" rx="5.5" ry="4.3"/>
<ellipse cx="541.0" cy="159.2" rx="5.5" ry="4.3"/>
<ellipse cx="541.7" cy="154.3" rx="5.5" ry="4.3"/>
<ellipse cx="546.9" cy="158.9" rx="5.5" ry="4.3"/>
<ellipse cx="554.3" cy="153.6" rx="5.5" ry="4.3"/>
<ellipse cx="546.1" cy="159.3" rx="5.5" ry="4.3"/>
<ellipse cx="541.5" cy="159.5" rx="5.5" ry="4.3"/>
<ellipse cx="544.2" cy="159.5" rx="5.5" ry="4.3"/>
<ellipse cx="542.3" cy="158.7" rx="5.5" ry="4.3"/>
<ellipse cx="548.3" cy="154.5" rx="5.5" ry="4.3"/>
<ellipse cx="551.5" cy="157.7" rx="5.5" ry="4.3"/>
<ellipse cx="545.4" cy="157.0" rx="5.5" ry="4.3"/>
<ellipse cx="544.8" cy="158.2" rx="5.5" ry="4.3"/>
<ellipse cx="539.1" cy="158.6" rx="5.5" ry="4.3"/>
<ellipse cx="555.4" cy="159.3" rx="5.5" ry="4.3"/>
<ellipse cx="547.1" cy="156.3" rx="5.5" ry="4.3"/>
<ellipse cx="553.5" cy="158.9" rx="5.5" ry="4.3"/>
<ellipse cx="542.9" cy="158.7" rx="5.5" ry="4.3"/>
<ellipse cx="545.2" cy="157.5" rx="5.5" ry="4.3"/>
<ellipse cx="555.2" cy="154.7" rx="5.5" ry="4.3"/>
<ellipse cx="553.7" cy="159.7" rx="5.5" ry="4.3"/>
<ellipse cx="538.6" cy="155.8" rx="5.5" ry="4.3"/>
<ellipse cx="554.1" cy="157.4" rx="5.5" ry="4.3"/>
<ellipse cx="548.6" cy="159.8" rx="5.5" ry="4.3"/>
<ellipse cx="545.0" cy="154.2" rx="5.5" ry="4.3"/>
<ellipse cx="552.9" cy="154.7" rx="5.5" ry="4.3"/>
<ellipse cx="555.5" cy="158.7" rx="5.5" ry="4.3"/>
<ellipse cx="540.0" cy="159.2" rx="5.5" ry="4.3"/>
<ellipse cx="547.4" cy="156.0" rx="5.5" ry="4.3"/>
<ellipse cx="554.9" cy="155.7" rx="5.5" ry="4.3"/>
<ellipse cx="549.7" cy="155.4" rx="5.5" ry="4.3"/>
<ellipse cx="546.2" cy="156.9" rx="5.5" ry="4.3"/>
<ellipse cx="538.7" cy="155.2" rx="5.5" ry="4.3"/>
<ellipse cx="542.2" cy="154.2" rx="5.5" ry="4.3"/>
<ellipse cx="549.6" cy="158.4" rx="5.5" ry="4.3"/>
<ellipse cx="540.3" cy="158.7" rx="5.5" ry="4.3"/>
<ellipse cx="549.5" cy="155.8" rx="5.5" ry="4.3"/>
<ellipse cx="540.0" cy="159.6" rx="5.5" ry="4.3"/>
<ellipse cx="568.0" cy="153.1" rx="5.5" ry="4.3"/>
<ellipse cx="565.1" cy="156.4" rx="5.5" ry="4.3"/>
<ellipse cx="569.6" cy="157.8" rx="5.5" ry="4.3"/>
<ellipse cx="563.3" cy="154.3" rx="5.5" ry="4.3"/>
<ellipse cx="577.1" cy="152.4" rx="5.5" ry="4.3"/>
<ellipse cx="575.6" cy="154.1" rx="5.5" ry="4.3"/>
<ellipse cx="561.9" cy="156.2" rx="5.5" ry="4.3"/>
<ellipse cx="577.2" cy="151.8" rx="5.5" ry="4.3"/>
<ellipse cx="563.5" cy="157.7" rx="5.5" ry="4.3"/>
<ellipse cx="567.5" cy="152.1" rx="5.5" ry="4.3"/>
<ellipse cx="565.8" cy="156.1" rx="5.5" ry="4.3"/>
<ellipse cx="571.0" cy="149.4" rx="5.5" ry="4.3"/>
<ellipse cx="561.8" cy="157.7" rx="5.5" ry="4.3"/>
<ellipse cx="564.1" cy="154.7" rx="5.5" ry="4.3"/>
<ellipse cx="571.3" cy="156.6" rx="5.5" ry="4.3"/>
<ellipse cx="573.7" cy="151.4" rx="5.5" ry="4.3"/>
<ellipse cx="567.6" cy="156.5" rx="5.5" ry="4.3"/>
<ellipse cx="577.4" cy="155.6" rx="5.5" ry="4.3"/>
<ellipse cx="574.2" cy="156.3" rx="5.5" ry="4.3"/>
<ellipse cx="561.7" cy="151.2" rx="5.5" ry="4.3"/>
<ellipse cx="563.2" cy="149.1" rx="5.5" ry="4.3"/>
<ellipse cx="567.4" cy="156.7" rx="5.5" ry="4.3"/>
<ellipse cx="561.7" cy="154.7" rx="5.5" ry="4.3"/>
<ellipse cx="571.0" cy="149.1" rx="5.5" ry="4.3"/>
<ellipse cx="560.1" cy="154.9" rx="5.5" ry="4.3"/>
<ellipse cx="561.5" cy="148.8" rx="5.5" ry="4.3"/>
<ellipse cx="557.8" cy="139.8" rx="5.5" ry="4.3"/>
<ellipse cx="560.2" cy="139.0" rx="5.5" ry="4.3"/>
<ellipse cx="562.4" cy="136.6" rx="5.5" ry="4.3"/>
<ellipse cx="577.0" cy="147.0" rx="5.5" ry="4.3"/>
<ellipse cx="578.2" cy="156.6" rx="5.5" ry="4.3"/>
<ellipse cx="601.1" cy="156.9" rx="5.5" ry="4.3"/>
<ellipse cx="600.6" cy="155.4" rx="5.5" ry="4.3"/>
<ellipse cx="605.9" cy="152.7" rx="5.5" ry="4.3"/>
<ellipse cx="604.8" cy="152.0" rx="5.5" ry="4.3"/>
<ellipse cx="606.1" cy="155.8" rx="5.5" ry="4.3"/>
<ellipse cx="601.4" cy="152.4" rx="5.5" ry="4.3"/>
<ellipse cx="604.9" cy="156.9" rx="5.5" ry="4.3"/>
<ellipse cx="604.4" cy="155.5" rx="5.5" ry="4.3"/>
<ellipse cx="600.6" cy="152.2" rx="5.5" ry="4.3"/>
<ellipse cx="603.0" cy="152.6" rx="5.5" ry="4.3"/>
<ellipse cx="610.7" cy="154.4" rx="5.5" ry="4.3"/>
<ellipse cx="608.1" cy="157.0" rx="5.5" ry="4.3"/>
<ellipse cx="609.5" cy="154.2" rx="5.5" ry="4.3"/>
<ellipse cx="617.9" cy="156.2" rx="5.5" ry="4.3"/>
<ellipse cx="618.1" cy="155.5" rx="5.5" ry="4.3"/>
<ellipse cx="610.5" cy="148.9" rx="5.5" ry="4.3"/>
<ellipse cx="616.3" cy="153.4" rx="5.5" ry="4.3"/>
<ellipse cx="606.6" cy="152.9" rx="5.5" ry="4.3"/>
<ellipse cx="610.7" cy="147.6" rx="5.5" ry="4.3"/>
<ellipse cx="608.4" cy="154.1" rx="5.5" ry="4.3"/>
<ellipse cx="617.2" cy="156.9" rx="5.5" ry="4.3"/>
<ellipse cx="611.1" cy="149.0" rx="5.5" ry="4.3"/>
<ellipse cx="615.6" cy="156.8" rx="5.5" ry="4.3"/>
<ellipse cx="606.4" cy="156.7" rx="5.5" ry="4.3"/>
<ellipse cx="617.5" cy="155.1" rx="5.5" ry="4.3"/>
<ellipse cx="615.3" cy="147.9" rx="5.5" ry="4.3"/>
<ellipse cx="610.2" cy="155.0" rx="5.5" ry="4.3"/>
<ellipse cx="618.0" cy="151.3" rx="5.5" ry="4.3"/>
<ellipse cx="609.3" cy="150.1" rx="5.5" ry="4.3"/>
<ellipse cx="610.0" cy="154.9" rx="5.5" ry="4.3"/>
<ellipse cx="606.0" cy="149.7" rx="5.5" ry="4.3"/>
<ellipse cx="617.5" cy="151.1" rx="5.5" ry="4.3"/>
<ellipse cx="617.8" cy="156.9" rx="5.5" ry="4.3"/>
<ellipse cx="608.9" cy="152.9" rx="5.5" ry="4.3"/>
<ellipse cx="618.0" cy="147.2" rx="5.5" ry="4.3"/>
<ellipse cx="610.8" cy="155.2" rx="5.5" ry="4.3"/>
<ellipse cx="611.4" cy="152.7" rx="5.5" ry="4.3"/>
<ellipse cx="617.6" cy="155.8" rx="5.5" ry="4.3"/>
<ellipse cx="616.0" cy="149.9" rx="5.5" ry="4.3"/>
<ellipse cx="616.3" cy="149.5" rx="5.5" ry="4.3"/>
<ellipse cx="636.4" cy="156.4" rx="5.5" ry="4.3"/>
<ellipse cx="628.6" cy="156.1" rx="5.5" ry="4.3"/>
<ellipse cx="641.1" cy="158.2" rx="5.5" ry="4.3"/>
<ellipse cx="625.3" cy="152.4" rx="5.5" ry="4.3"/>
<ellipse cx="626.7" cy="158.3" rx="5.5" ry="4.3"/>
<ellipse cx="620.9" cy="154.4" rx="5.5" ry="4.3"/>
<ellipse cx="628.8" cy="150.0" rx="5.5" ry="4.3"/>
<ellipse cx="643.9" cy="149.9" rx="5.5" ry="4.3"/>
<ellipse cx="627.2" cy="158.2" rx="5.5" ry="4.3"/>
<ellipse cx="622.6" cy="154.9" rx="5.5" ry="4.3"/>
<ellipse cx="639.2" cy="155.4" rx="5.5" ry="4.3"/>
<ellipse cx="626.3" cy="155.7" rx="5.5" ry="4.3"/>
<ellipse cx="636.7" cy="153.2" rx="5.5" ry="4.3"/>
<ellipse cx="640.2" cy="151.4" rx="5.5" ry="4.3"/>
<ellipse cx="637.9" cy="158.0" rx="5.5" ry="4.3"/>
<ellipse cx="642.7" cy="156.7" rx="5.5" ry="4.3"/>
<ellipse cx="635.3" cy="156.0" rx="5.5" ry="4.3"/>
<ellipse cx="639.9" cy="157.4" rx="5.5" ry="4.3"/>
<ellipse cx="626.7" cy="157.1" rx="5.5" ry="4.3"/>
<ellipse cx="624.1" cy="151.1" rx="5.5" ry="4.3"/>
<ellipse cx="635.6" cy="156.4" rx="5.5" ry="4.3"/>
<ellipse cx="630.7" cy="149.9" rx="5.5" ry="4.3"/>
<ellipse cx="633.7" cy="157.2" rx="5.5" ry="4.3"/>
<ellipse cx="641.8" cy="153.4" rx="5.5" ry="4.3"/>
<ellipse cx="646.8" cy="158.1" rx="5.5" ry="4.3"/>
<ellipse cx="632.8" cy="151.7" rx="5.5" ry="4.3"/>
<ellipse cx="642.7" cy="150.7" rx="5.5" ry="4.3"/>
<ellipse cx="621.1" cy="156.7" rx="5.5" ry="4.3"/>
<ellipse cx="623.2" cy="157.5" rx="5.5" ry="4.3"/>
<ellipse cx="646.3" cy="154.1" rx="5.5" ry="4.3"/>
<ellipse cx="645.1" cy="156.0" rx="5.5" ry="4.3"/>
<ellipse cx="643.4" cy="155.4" rx="5.5" ry="4.3"/>
<ellipse cx="627.0" cy="152.2" rx="5.5" ry="4.3"/>
<ellipse cx="645.5" cy="158.1" rx="5.5" ry="4.3"/>
<ellipse cx="636.1" cy="153.8" rx="5.5" ry="4.3"/>
<ellipse cx="625.9" cy="156.1" rx="5.5" ry="4.3"/>
<ellipse cx="623.8" cy="157.4" rx="5.5" ry="4.3"/>
<ellipse cx="626.9" cy="154.0" rx="5.5" ry="4.3"/>
<ellipse cx="637.6" cy="157.4" rx="5.5" ry="4.3"/>
<ellipse cx="620.3" cy="156.4" rx="5.5" ry="4.3"/>
<ellipse cx="638.3" cy="157.5" rx="5.5" ry="4.3"/>
<ellipse cx="628.4" cy="157.4" rx="5.5" ry="4.3"/>
<ellipse cx="641.5" cy="154.5" rx="5.5" ry="4.3"/>
<ellipse cx="621.7" cy="158.1" rx="5.5" ry="4.3"/>
<ellipse cx="644.7" cy="143.0" rx="5.5" ry="4.3"/>
<ellipse cx="650.8" cy="152.4" rx="5.5" ry="4.3"/>
</g>
<path d="M514.3 160.5H672.7" stroke="#333" stroke-width="1.6" fill="none"/>
<g font-family="'Liberation Sans', Arial, Helvetica, sans-serif" font-size="18.7" fill="#111" stroke="#111" stroke-width="0.3">
<text text-anchor="end" transform="translate(506.1 13.6) scale(1.175 1)">2</text>
<text text-anchor="end" transform="translate(506.1 90.9) scale(1.175 1)">1</text>
<text text-anchor="end" transform="translate(506.1 168.2) scale(1.175 1)">0</text>
<text text-anchor="middle" transform="translate(514.9 187.7) scale(1.175 1)">0</text>
<text text-anchor="middle" transform="translate(593.5 187.7) scale(1.175 1)">10</text>
<text text-anchor="middle" transform="translate(672.2 187.7) scale(1.175 1)">20</text>
</g>
<text font-family="'Liberation Sans', Arial, Helvetica, sans-serif" font-size="25.0" fill="#111" stroke="#111" stroke-width="0.25" text-anchor="middle" transform="translate(480.8 83.1) rotate(-90) scale(0.832 1)">Agent 3</text>
</g>
<g>
<path d="M70.2 231.1H228.0M70.2 384.5H228.0" stroke="#4a4a4a" stroke-width="1.5" fill="none"/>
<path d="M70.9 231.1V384.5M227.3 231.1V384.5" stroke="#2e2e2e" stroke-width="1.6" fill="none"/>
<path d="M70.9 384.5v-2.6M70.9 231.1v2.6M149.1 384.5v-2.6M149.1 231.1v2.6M227.3 384.5v-2.6M227.3 231.1v2.6M70.9 231.1h2.6M227.3 231.1h-2.6M70.9 282.2h2.6M227.3 282.2h-2.6M70.9 333.4h2.6M227.3 333.4h-2.6M70.9 384.5h2.6M227.3 384.5h-2.6" stroke="#333" stroke-width="1.2" fill="none"/>
<path d="M147.2 384.5V274.9M156.2 384.5V321.8M164.7 384.5V325.0M182.0 384.5V327.5M188.7 384.5V338.7M195.4 384.5V342.8M210.7 384.5V323.7M222.5 384.5V306.8M106.7 384.5V359.6M127.2 384.5V370.6M130.0 384.5V371.0M130.8 384.5V376.9M102.3 384.5V375.0M116.2 384.5V374.2M166.8 384.5V368.4M174.5 384.5V367.2M169.7 384.5V376.4M168.5 384.5V374.7M171.5 384.5V375.2M170.5 384.5V378.0M168.8 384.5V377.4M172.0 384.5V377.2M196.0 384.5V377.0M200.2 384.5V373.8M202.7 384.5V375.4M198.6 384.5V381.8M199.6 384.5V376.0M198.0 384.5V375.0M201.0 384.5V377.2M199.8 384.5V383.0M197.5 384.5V378.2M92.7 384.5V379.7M106.2 384.5V382.9M80.0 384.5V380.7M93.5 384.5V381.6M87.9 384.5V378.3M88.2 384.5V380.4M90.6 384.5V380.8M118.5 384.5V376.9M91.0 384.5V382.2M111.0 384.5V381.9M71.3 384.5V378.7M94.3 384.5V378.0M93.3 384.5V377.5M96.3 384.5V382.5M71.8 384.5V380.5M106.2 384.5V377.9M75.9 384.5V380.2M91.4 384.5V380.1M79.0 384.5V382.3M99.7 384.5V378.6M77.0 384.5V381.1M115.3 384.5V376.1M81.9 384.5V383.1M122.9 384.5V377.3M97.6 384.5V383.2M121.9 384.5V381.0M120.7 384.5V379.6M116.4 384.5V382.3M114.2 384.5V381.7M93.2 384.5V377.7M116.6 384.5V382.1M83.0 384.5V382.0M99.5 384.5V381.5M77.8 384.5V382.4M110.9 384.5V376.4M73.3 384.5V380.4M112.7 384.5V383.1M117.1 384.5V382.6M104.0 384.5V380.6M105.5 384.5V381.7M94.1 384.5V379.6M94.4 384.5V379.1M95.6 384.5V380.7M72.3 384.5V380.1M97.9 384.5V382.1M113.0 384.5V377.2M96.2 384.5V382.4M97.0 384.5V382.9M78.1 384.5V381.5M76.0 384.5V381.2M106.0 384.5V383.0M111.3 384.5V377.3M99.1 384.5V383.2M98.7 384.5V381.4M123.3 384.5V382.5M118.1 384.5V376.8M111.3 384.5V377.0M81.7 384.5V379.7M98.1 384.5V378.0M121.4 384.5V382.4M114.4 384.5V376.2M74.6 384.5V381.6M112.6 384.5V382.2M120.3 384.5V381.7M115.9 384.5V382.4M98.6 384.5V378.4M82.5 384.5V382.5M98.8 384.5V381.7M73.0 384.5V382.6M79.9 384.5V379.6M108.4 384.5V377.2M80.3 384.5V380.3M77.3 384.5V380.9M106.0 384.5V381.3M119.0 384.5V379.9M102.9 384.5V379.0M76.8 384.5V378.4M105.6 384.5V381.2M114.9 384.5V381.4M125.5 384.5V379.3M90.8 384.5V378.5M95.3 384.5V382.4M111.9 384.5V383.1M116.1 384.5V381.6M106.2 384.5V377.5M103.2 384.5V380.1M72.9 384.5V382.7M104.9 384.5V381.1M99.2 384.5V378.7M78.3 384.5V382.5M71.1 384.5V381.7M76.8 384.5V381.7M83.3 384.5V381.3M103.4 384.5V382.4M105.3 384.5V380.8M78.4 384.5V379.2M84.4 384.5V382.9M76.3 384.5V380.2M118.9 384.5V378.4M93.1 384.5V381.7M71.6 384.5V380.0M101.9 384.5V381.7M106.5 384.5V380.7M122.5 384.5V378.8M84.7 384.5V379.7M73.4 384.5V380.5M93.3 384.5V381.9M74.2 384.5V379.1M71.7 384.5V380.6M122.8 384.5V382.5M82.0 384.5V381.2M98.9 384.5V380.0M115.7 384.5V382.1M88.0 384.5V381.9M73.7 384.5V378.5M114.1 384.5V377.8M71.3 384.5V379.0M112.0 384.5V379.7M111.8 384.5V379.8M83.4 384.5V383.1M89.5 384.5V378.9" stroke="#0000ff" stroke-width="1.55" fill="none"/>
<g fill="none" stroke="#0000ff" stroke-width="1.60">
<ellipse cx="147.2" cy="275.7" rx="5.5" ry="4.3"/>
<ellipse cx="156.2" cy="322.6" rx="5.5" ry="4.3"/>
<ellipse cx="164.7" cy="325.8" rx="5.5" ry="4.3"/>
<ellipse cx="182.0" cy="328.3" rx="5.5" ry="4.3"/>
<ellipse cx="188.7" cy="339.5" rx="5.5" ry="4.3"/>
<ellipse cx="195.4" cy="343.6" rx="5.5" ry="4.3"/>
<ellipse cx="210.7" cy="324.5" rx="5.5" ry="4.3"/>
<ellipse cx="222.5" cy="307.6" rx="5.5" ry="4.3"/>
<ellipse cx="106.7" cy="360.4" rx="5.5" ry="4.3"/>
<ellipse cx="127.2" cy="371.4" rx="5.5" ry="4.3"/>
<ellipse cx="130.0" cy="371.8" rx="5.5" ry="4.3"/>
<ellipse cx="130.8" cy="377.7" rx="5.5" ry="4.3"/>
<ellipse cx="102.3" cy="375.8" rx="5.5" ry="4.3"/>
<ellipse cx="116.2" cy="375.0" rx="5.5" ry="4.3"/>
<ellipse cx="166.8" cy="369.2" rx="5.5" ry="4.3"/>
<ellipse cx="174.5" cy="368.0" rx="5.5" ry="4.3"/>
<ellipse cx="169.7" cy="377.2" rx="5.5" ry="4.3"/>
<ellipse cx="168.5" cy="375.5" rx="5.5" ry="4.3"/>
<ellipse cx="171.5" cy="376.0" rx="5.5" ry="4.3"/>
<ellipse cx="170.5" cy="378.8" rx="5.5" ry="4.3"/>
<ellipse cx="168.8" cy="378.2" rx="5.5" ry="4.3"/>
<ellipse cx="172.0" cy="378.0" rx="5.5" ry="4.3"/>
<ellipse cx="196.0" cy="377.8" rx="5.5" ry="4.3"/>
<ellipse cx="200.2" cy="374.6" rx="5.5" ry="4.3"/>
<ellipse cx="202.7" cy="376.2" rx="5.5" ry="4.3"/>
<ellipse cx="198.6" cy="382.6" rx="5.5" ry="4.3"/>
<ellipse cx="199.6" cy="376.8" rx="5.5" ry="4.3"/>
<ellipse cx="198.0" cy="375.8" rx="5.5" ry="4.3"/>
<ellipse cx="201.0" cy="378.0" rx="5.5" ry="4.3"/>
<ellipse cx="199.8" cy="383.8" rx="5.5" ry="4.3"/>
<ellipse cx="197.5" cy="379.0" rx="5.5" ry="4.3"/>
<ellipse cx="92.7" cy="380.5" rx="5.5" ry="4.3"/>
<ellipse cx="106.2" cy="383.7" rx="5.5" ry="4.3"/>
<ellipse cx="80.0" cy="381.5" rx="5.5" ry="4.3"/>
<ellipse cx="93.5" cy="382.4" rx="5.5" ry="4.3"/>
<ellipse cx="87.9" cy="379.1" rx="5.5" ry="4.3"/>
<ellipse cx="88.2" cy="381.2" rx="5.5" ry="4.3"/>
<ellipse cx="90.6" cy="381.6" rx="5.5" ry="4.3"/>
<ellipse cx="118.5" cy="377.7" rx="5.5" ry="4.3"/>
<ellipse cx="91.0" cy="383.0" rx="5.5" ry="4.3"/>
<ellipse cx="111.0" cy="382.7" rx="5.5" ry="4.3"/>
<ellipse cx="71.3" cy="379.5" rx="5.5" ry="4.3"/>
<ellipse cx="94.3" cy="378.8" rx="5.5" ry="4.3"/>
<ellipse cx="93.3" cy="378.3" rx="5.5" ry="4.3"/>
<ellipse cx="96.3" cy="383.3" rx="5.5" ry="4.3"/>
<ellipse cx="71.8" cy="381.3" rx="5.5" ry="4.3"/>
<ellipse cx="106.2" cy="378.7" rx="5.5" ry="4.3"/>
<ellipse cx="75.9" cy="381.0" rx="5.5" ry="4.3"/>
<ellipse cx="91.4" cy="380.9" rx="5.5" ry="4.3"/>
<ellipse cx="79.0" cy="383.1" rx="5.5" ry="4.3"/>
<ellipse cx="99.7" cy="379.4" rx="5.5" ry="4.3"/>
<ellipse cx="77.0" cy="381.9" rx="5.5" ry="4.3"/>
<ellipse cx="115.3" cy="376.9" rx="5.5" ry="4.3"/>
<ellipse cx="81.9" cy="383.9" rx="5.5" ry="4.3"/>
<ellipse cx="122.9" cy="378.1" rx="5.5" ry="4.3"/>
<ellipse cx="97.6" cy="384.0" rx="5.5" ry="4.3"/>
<ellipse cx="121.9" cy="381.8" rx="5.5" ry="4.3"/>
<ellipse cx="120.7" cy="380.4" rx="5.5" ry="4.3"/>
<ellipse cx="116.4" cy="383.1" rx="5.5" ry="4.3"/>
<ellipse cx="114.2" cy="382.5" rx="5.5" ry="4.3"/>
<ellipse cx="93.2" cy="378.5" rx="5.5" ry="4.3"/>
<ellipse cx="116.6" cy="382.9" rx="5.5" ry="4.3"/>
<ellipse cx="83.0" cy="382.8" rx="5.5" ry="4.3"/>
<ellipse cx="99.5" cy="382.3" rx="5.5" ry="4.3"/>
<ellipse cx="77.8" cy="383.2" rx="5.5" ry="4.3"/>
<ellipse cx="110.9" cy="377.2" rx="5.5" ry="4.3"/>
<ellipse cx="73.3" cy="381.2" rx="5.5" ry="4.3"/>
<ellipse cx="112.7" cy="383.9" rx="5.5" ry="4.3"/>
<ellipse cx="117.1" cy="383.4" rx="5.5" ry="4.3"/>
<ellipse cx="104.0" cy="381.4" rx="5.5" ry="4.3"/>
<ellipse cx="105.5" cy="382.5" rx="5.5" ry="4.3"/>
<ellipse cx="94.1" cy="380.4" rx="5.5" ry="4.3"/>
<ellipse cx="94.4" cy="379.9" rx="5.5" ry="4.3"/>
<ellipse cx="95.6" cy="381.5" rx="5.5" ry="4.3"/>
<ellipse cx="72.3" cy="380.9" rx="5.5" ry="4.3"/>
<ellipse cx="97.9" cy="382.9" rx="5.5" ry="4.3"/>
<ellipse cx="113.0" cy="378.0" rx="5.5" ry="4.3"/>
<ellipse cx="96.2" cy="383.2" rx="5.5" ry="4.3"/>
<ellipse cx="97.0" cy="383.7" rx="5.5" ry="4.3"/>
<ellipse cx="78.1" cy="382.3" rx="5.5" ry="4.3"/>
<ellipse cx="76.0" cy="382.0" rx="5.5" ry="4.3"/>
<ellipse cx="99.1" cy="384.1" rx="5.5" ry="4.3"/>
<ellipse cx="106.0" cy="383.8" rx="5.5" ry="4.3"/>
<ellipse cx="111.3" cy="378.1" rx="5.5" ry="4.3"/>
<ellipse cx="99.1" cy="384.0" rx="5.5" ry="4.3"/>
<ellipse cx="98.7" cy="382.2" rx="5.5" ry="4.3"/>
<ellipse cx="123.3" cy="383.3" rx="5.5" ry="4.3"/>
<ellipse cx="118.1" cy="377.6" rx="5.5" ry="4.3"/>
<ellipse cx="111.3" cy="377.8" rx="5.5" ry="4.3"/>
<ellipse cx="81.7" cy="380.5" rx="5.5" ry="4.3"/>
<ellipse cx="98.1" cy="378.8" rx="5.5" ry="4.3"/>
<ellipse cx="121.4" cy="383.2" rx="5.5" ry="4.3"/>
<ellipse cx="114.4" cy="377.0" rx="5.5" ry="4.3"/>
<ellipse cx="74.6" cy="382.4" rx="5.5" ry="4.3"/>
<ellipse cx="112.6" cy="383.0" rx="5.5" ry="4.3"/>
<ellipse cx="120.3" cy="382.5" rx="5.5" ry="4.3"/>
<ellipse cx="115.9" cy="383.2" rx="5.5" ry="4.3"/>
<ellipse cx="98.6" cy="379.2" rx="5.5" ry="4.3"/>
<ellipse cx="82.5" cy="383.3" rx="5.5" ry="4.3"/>
<ellipse cx="98.8" cy="382.5" rx="5.5" ry="4.3"/>
<ellipse cx="73.0" cy="383.4" rx="5.5" ry="4.3"/>
<ellipse cx="79.9" cy="380.4" rx="5.5" ry="4.3"/>
<ellipse cx="108.4" cy="378.0" rx="5.5" ry="4.3"/>
<ellipse cx="80.3" cy="381.1" rx="5.5" ry="4.3"/>
<ellipse cx="77.3" cy="381.7" rx="5.5" ry="4.3"/>
<ellipse cx="106.0" cy="382.1" rx="5.5" ry="4.3"/>
<ellipse cx="119.0" cy="380.7" rx="5.5" ry="4.3"/>
<ellipse cx="102.9" cy="379.8" rx="5.5" ry="4.3"/>
<ellipse cx="76.8" cy="379.2" rx="5.5" ry="4.3"/>
<ellipse cx="105.6" cy="382.0" rx="5.5" ry="4.3"/>
<ellipse cx="114.9" cy="382.2" rx="5.5" ry="4.3"/>
<ellipse cx="125.5" cy="380.1" rx="5.5" ry="4.3"/>
<ellipse cx="90.8" cy="379.3" rx="5.5" ry="4.3"/>
<ellipse cx="95.3" cy="383.2" rx="5.5" ry="4.3"/>
<ellipse cx="111.9" cy="383.9" rx="5.5" ry="4.3"/>
<ellipse cx="116.1" cy="382.4" rx="5.5" ry="4.3"/>
<ellipse cx="106.2" cy="378.3" rx="5.5" ry="4.3"/>
<ellipse cx="103.2" cy="380.9" rx="5.5" ry="4.3"/>
<ellipse cx="88.2" cy="384.3" rx="5.5" ry="4.3"/>
<ellipse cx="72.9" cy="383.5" rx="5.5" ry="4.3"/>
<ellipse cx="104.9" cy="381.9" rx="5.5" ry="4.3"/>
<ellipse cx="99.2" cy="379.5" rx="5.5" ry="4.3"/>
<ellipse cx="78.3" cy="383.3" rx="5.5" ry="4.3"/>
<ellipse cx="106.9" cy="384.1" rx="5.5" ry="4.3"/>
<ellipse cx="71.1" cy="382.5" rx="5.5" ry="4.3"/>
<ellipse cx="76.8" cy="382.5" rx="5.5" ry="4.3"/>
<ellipse cx="83.3" cy="382.1" rx="5.5" ry="4.3"/>
<ellipse cx="103.4" cy="383.2" rx="5.5" ry="4.3"/>
<ellipse cx="105.3" cy="381.6" rx="5.5" ry="4.3"/>
<ellipse cx="78.4" cy="380.0" rx="5.5" ry="4.3"/>
<ellipse cx="84.4" cy="383.7" rx="5.5" ry="4.3"/>
<ellipse cx="76.3" cy="381.0" rx="5.5" ry="4.3"/>
<ellipse cx="118.9" cy="379.2" rx="5.5" ry="4.3"/>
<ellipse cx="93.1" cy="382.5" rx="5.5" ry="4.3"/>
<ellipse cx="71.6" cy="380.8" rx="5.5" ry="4.3"/>
<ellipse cx="101.9" cy="382.5" rx="5.5" ry="4.3"/>
<ellipse cx="106.5" cy="381.5" rx="5.5" ry="4.3"/>
<ellipse cx="122.5" cy="379.6" rx="5.5" ry="4.3"/>
<ellipse cx="84.7" cy="380.5" rx="5.5" ry="4.3"/>
<ellipse cx="73.4" cy="381.3" rx="5.5" ry="4.3"/>
<ellipse cx="93.3" cy="382.7" rx="5.5" ry="4.3"/>
<ellipse cx="74.2" cy="379.9" rx="5.5" ry="4.3"/>
<ellipse cx="71.7" cy="381.4" rx="5.5" ry="4.3"/>
<ellipse cx="122.8" cy="383.3" rx="5.5" ry="4.3"/>
<ellipse cx="82.0" cy="382.0" rx="5.5" ry="4.3"/>
<ellipse cx="98.9" cy="380.8" rx="5.5" ry="4.3"/>
<ellipse cx="115.7" cy="382.9" rx="5.5" ry="4.3"/>
<ellipse cx="88.0" cy="382.7" rx="5.5" ry="4.3"/>
<ellipse cx="73.7" cy="379.3" rx="5.5" ry="4.3"/>
<ellipse cx="114.1" cy="378.6" rx="5.5" ry="4.3"/>
<ellipse cx="71.3" cy="379.8" rx="5.5" ry="4.3"/>
<ellipse cx="112.0" cy="380.5" rx="5.5" ry="4.3"/>
<ellipse cx="111.8" cy="380.6" rx="5.5" ry="4.3"/>
<ellipse cx="83.4" cy="383.9" rx="5.5" ry="4.3"/>
<ellipse cx="83.8" cy="384.2" rx="5.5" ry="4.3"/>
<ellipse cx="89.5" cy="379.7" rx="5.5" ry="4.3"/>
</g>
<path d="M70.1 384.6H227.6" stroke="#333" stroke-width="1.7" fill="none"/>
<g font-family="'Liberation Sans', Arial, Helvetica, sans-serif" font-size="18.7" fill="#111" stroke="#111" stroke-width="0.3">
<text text-anchor="end" transform="translate(61.9 238.9) scale(1.175 1)">3</text>
<text text-anchor="end" transform="translate(61.9 290.0) scale(1.175 1)">2</text>
<text text-anchor="end" transform="translate(61.9 341.2) scale(1.175 1)">1</text>
<text text-anchor="end" transform="translate(61.9 392.3) scale(1.175 1)">0</text>
<text text-anchor="middle" transform="translate(70.7 411.8) scale(1.175 1)">0</text>
<text text-anchor="middle" transform="translate(148.9 411.8) scale(1.175 1)">10</text>
<text text-anchor="middle" transform="translate(227.1 411.8) scale(1.175 1)">20</text>
</g>
<text font-family="'Liberation Sans', Arial, Helvetica, sans-serif" font-size="25.0" fill="#111" stroke="#111" stroke-width="0.25" text-anchor="middle" transform="translate(37.1 307.8) rotate(-90) scale(0.832 1)">Agent 4</text>
</g>
<g>
<path d="M300.6 228.9H458.1M300.6 382.3H458.1" stroke="#4a4a4a" stroke-width="1.5" fill="none"/>
<path d="M301.3 228.9V382.3M457.4 228.9V382.3" stroke="#2e2e2e" stroke-width="1.6" fill="none"/>
<path d="M301.3 382.3v-2.6M301.3 228.9v2.6M379.4 382.3v-2.6M379.4 228.9v2.6M457.4 382.3v-2.6M457.4 228.9v2.6M301.3 228.9h2.6M457.4 228.9h-2.6M301.3 280.0h2.6M457.4 280.0h-2.6M301.3 331.2h2.6M457.4 331.2h-2.6M301.3 382.3h2.6M457.4 382.3h-2.6" stroke="#333" stroke-width="1.2" fill="none"/>
<path d="M301.9 382.3V380.9M308.6 382.3V332.6M374.7 382.3V317.8M394.5 382.3V253.3M426.7 382.3V291.5M364.0 382.3V352.0M365.6 382.3V369.8M353.0 382.3V368.0M334.1 382.3V373.5M412.1 382.3V350.7M408.0 382.3V358.5M400.9 382.3V365.9M395.0 382.3V375.8M397.5 382.3V373.7M399.5 382.3V375.7M402.0 382.3V374.7M404.0 382.3V373.5M396.2 382.3V378.2M398.3 382.3V380.3M400.8 382.3V377.7M403.2 382.3V376.8M440.6 382.3V352.2M447.0 382.3V345.2M436.2 382.3V367.5M434.2 382.3V368.6M427.0 382.3V375.2M428.3 382.3V377.2M429.6 382.3V374.2M431.0 382.3V376.2M427.3 382.3V379.7M429.0 382.3V380.2M430.5 382.3V378.7M431.8 382.3V373.8M426.6 382.3V377.7M428.6 382.3V375.7M431.3 382.3V380.2M426.4 382.3V380.7M432.4 382.3V377.2M315.3 382.3V375.9M315.4 382.3V379.6M314.0 382.3V378.6M316.1 382.3V378.1M311.4 382.3V377.3M317.7 382.3V379.8M316.9 382.3V380.7M311.3 382.3V379.7M315.7 382.3V375.2M315.7 382.3V379.2M316.9 382.3V379.2M311.2 382.3V375.5M314.7 382.3V377.0M315.0 382.3V375.0M313.2 382.3V376.0M315.3 382.3V375.8M312.9 382.3V376.8M314.1 382.3V379.3M310.9 382.3V377.4M309.7 382.3V375.5M310.3 382.3V380.6M310.0 382.3V375.3M325.0 382.3V381.0M316.7 382.3V381.1M334.0 382.3V379.7M334.1 382.3V379.4M317.7 382.3V379.8M325.4 382.3V379.1M337.3 382.3V378.9M317.7 382.3V378.9M339.8 382.3V378.7M318.8 382.3V380.8M338.0 382.3V379.1M332.5 382.3V379.1M332.4 382.3V380.6M318.6 382.3V381.1M335.7 382.3V380.8M324.3 382.3V380.3M316.5 382.3V380.7M323.3 382.3V379.4M325.6 382.3V380.5M341.1 382.3V380.1M338.1 382.3V379.7M316.8 382.3V380.3M327.3 382.3V379.2M325.0 382.3V379.5M330.0 382.3V380.8M338.4 382.3V381.1M337.3 382.3V380.9M316.0 382.3V380.8M335.8 382.3V378.6M316.1 382.3V380.1M328.8 382.3V379.2M320.8 382.3V380.1M325.0 382.3V379.1M322.8 382.3V378.7M323.4 382.3V380.8M334.2 382.3V380.1M318.9 382.3V379.7M318.1 382.3V379.2M334.1 382.3V379.2M352.6 382.3V378.9M348.0 382.3V378.6M357.8 382.3V380.4M357.8 382.3V380.6M344.1 382.3V379.5M358.0 382.3V377.9M347.6 382.3V375.0M344.7 382.3V378.2M350.6 382.3V376.1M355.1 382.3V376.9M347.0 382.3V379.1M343.1 382.3V375.4M353.2 382.3V376.2M343.4 382.3V378.3M355.5 382.3V377.4M342.5 382.3V378.2M357.7 382.3V379.6M343.8 382.3V379.2M354.1 382.3V375.4M343.1 382.3V380.1M345.0 382.3V379.1M350.4 382.3V380.0M346.6 382.3V379.9M359.5 382.3V376.3M342.0 382.3V374.4M342.0 382.3V378.7M359.7 382.3V375.7M354.7 382.3V378.4M343.9 382.3V376.9M342.1 382.3V379.8M347.8 382.3V380.6M348.0 382.3V375.8M353.9 382.3V377.9M352.6 382.3V378.2M342.8 382.3V377.2M348.1 382.3V376.2M358.2 382.3V378.4M351.5 382.3V376.1M348.4 382.3V379.7M354.4 382.3V375.1M355.5 382.3V376.5M357.0 382.3V376.6M352.8 382.3V378.2M346.3 382.3V377.0M342.0 382.3V378.5" stroke="#0000ff" stroke-width="1.55" fill="none"/>
<g fill="none" stroke="#0000ff" stroke-width="1.60">
<ellipse cx="301.9" cy="381.7" rx="5.5" ry="4.3"/>
<ellipse cx="308.6" cy="333.4" rx="5.5" ry="4.3"/>
<ellipse cx="374.7" cy="318.6" rx="5.5" ry="4.3"/>
<ellipse cx="394.5" cy="254.1" rx="5.5" ry="4.3"/>
<ellipse cx="426.7" cy="292.3" rx="5.5" ry="4.3"/>
<ellipse cx="364.0" cy="352.8" rx="5.5" ry="4.3"/>
<ellipse cx="365.6" cy="370.6" rx="5.5" ry="4.3"/>
<ellipse cx="353.0" cy="368.8" rx="5.5" ry="4.3"/>
<ellipse cx="334.1" cy="374.3" rx="5.5" ry="4.3"/>
<ellipse cx="412.1" cy="351.5" rx="5.5" ry="4.3"/>
<ellipse cx="408.0" cy="359.3" rx="5.5" ry="4.3"/>
<ellipse cx="400.9" cy="366.7" rx="5.5" ry="4.3"/>
<ellipse cx="395.0" cy="376.6" rx="5.5" ry="4.3"/>
<ellipse cx="397.5" cy="374.5" rx="5.5" ry="4.3"/>
<ellipse cx="399.5" cy="376.5" rx="5.5" ry="4.3"/>
<ellipse cx="402.0" cy="375.5" rx="5.5" ry="4.3"/>
<ellipse cx="404.0" cy="374.3" rx="5.5" ry="4.3"/>
<ellipse cx="396.2" cy="379.0" rx="5.5" ry="4.3"/>
<ellipse cx="398.3" cy="381.1" rx="5.5" ry="4.3"/>
<ellipse cx="400.8" cy="378.5" rx="5.5" ry="4.3"/>
<ellipse cx="403.2" cy="377.6" rx="5.5" ry="4.3"/>
<ellipse cx="440.6" cy="353.0" rx="5.5" ry="4.3"/>
<ellipse cx="447.0" cy="346.0" rx="5.5" ry="4.3"/>
<ellipse cx="436.2" cy="368.3" rx="5.5" ry="4.3"/>
<ellipse cx="434.2" cy="369.4" rx="5.5" ry="4.3"/>
<ellipse cx="427.0" cy="376.0" rx="5.5" ry="4.3"/>
<ellipse cx="428.3" cy="378.0" rx="5.5" ry="4.3"/>
<ellipse cx="429.6" cy="375.0" rx="5.5" ry="4.3"/>
<ellipse cx="431.0" cy="377.0" rx="5.5" ry="4.3"/>
<ellipse cx="427.3" cy="380.5" rx="5.5" ry="4.3"/>
<ellipse cx="429.0" cy="381.0" rx="5.5" ry="4.3"/>
<ellipse cx="430.5" cy="379.5" rx="5.5" ry="4.3"/>
<ellipse cx="431.8" cy="374.6" rx="5.5" ry="4.3"/>
<ellipse cx="426.6" cy="378.5" rx="5.5" ry="4.3"/>
<ellipse cx="428.6" cy="376.5" rx="5.5" ry="4.3"/>
<ellipse cx="431.3" cy="381.0" rx="5.5" ry="4.3"/>
<ellipse cx="426.4" cy="381.5" rx="5.5" ry="4.3"/>
<ellipse cx="432.4" cy="378.0" rx="5.5" ry="4.3"/>
<ellipse cx="315.3" cy="376.7" rx="5.5" ry="4.3"/>
<ellipse cx="315.4" cy="380.4" rx="5.5" ry="4.3"/>
<ellipse cx="314.0" cy="379.4" rx="5.5" ry="4.3"/>
<ellipse cx="316.1" cy="378.9" rx="5.5" ry="4.3"/>
<ellipse cx="311.4" cy="378.1" rx="5.5" ry="4.3"/>
<ellipse cx="317.7" cy="380.6" rx="5.5" ry="4.3"/>
<ellipse cx="316.9" cy="381.5" rx="5.5" ry="4.3"/>
<ellipse cx="311.3" cy="380.5" rx="5.5" ry="4.3"/>
<ellipse cx="315.7" cy="376.0" rx="5.5" ry="4.3"/>
<ellipse cx="315.7" cy="380.0" rx="5.5" ry="4.3"/>
<ellipse cx="316.9" cy="380.0" rx="5.5" ry="4.3"/>
<ellipse cx="311.2" cy="376.3" rx="5.5" ry="4.3"/>
<ellipse cx="314.7" cy="377.8" rx="5.5" ry="4.3"/>
<ellipse cx="315.0" cy="375.8" rx="5.5" ry="4.3"/>
<ellipse cx="313.2" cy="376.8" rx="5.5" ry="4.3"/>
<ellipse cx="315.3" cy="376.6" rx="5.5" ry="4.3"/>
<ellipse cx="312.9" cy="377.6" rx="5.5" ry="4.3"/>
<ellipse cx="314.1" cy="380.1" rx="5.5" ry="4.3"/>
<ellipse cx="310.9" cy="378.2" rx="5.5" ry="4.3"/>
<ellipse cx="309.7" cy="376.3" rx="5.5" ry="4.3"/>
<ellipse cx="310.3" cy="381.4" rx="5.5" ry="4.3"/>
<ellipse cx="310.0" cy="376.1" rx="5.5" ry="4.3"/>
<ellipse cx="325.0" cy="381.8" rx="5.5" ry="4.3"/>
<ellipse cx="316.7" cy="381.9" rx="5.5" ry="4.3"/>
<ellipse cx="334.0" cy="380.5" rx="5.5" ry="4.3"/>
<ellipse cx="334.1" cy="380.2" rx="5.5" ry="4.3"/>
<ellipse cx="317.7" cy="380.6" rx="5.5" ry="4.3"/>
<ellipse cx="325.4" cy="379.9" rx="5.5" ry="4.3"/>
<ellipse cx="337.3" cy="379.7" rx="5.5" ry="4.3"/>
<ellipse cx="317.7" cy="379.7" rx="5.5" ry="4.3"/>
<ellipse cx="339.8" cy="379.5" rx="5.5" ry="4.3"/>
<ellipse cx="318.8" cy="381.6" rx="5.5" ry="4.3"/>
<ellipse cx="318.9" cy="382.0" rx="5.5" ry="4.3"/>
<ellipse cx="338.0" cy="379.9" rx="5.5" ry="4.3"/>
<ellipse cx="332.5" cy="379.9" rx="5.5" ry="4.3"/>
<ellipse cx="332.4" cy="381.4" rx="5.5" ry="4.3"/>
<ellipse cx="318.6" cy="381.9" rx="5.5" ry="4.3"/>
<ellipse cx="335.7" cy="381.6" rx="5.5" ry="4.3"/>
<ellipse cx="324.3" cy="381.1" rx="5.5" ry="4.3"/>
<ellipse cx="316.5" cy="381.5" rx="5.5" ry="4.3"/>
<ellipse cx="323.3" cy="380.2" rx="5.5" ry="4.3"/>
<ellipse cx="325.6" cy="381.3" rx="5.5" ry="4.3"/>
<ellipse cx="341.1" cy="380.9" rx="5.5" ry="4.3"/>
<ellipse cx="338.1" cy="380.5" rx="5.5" ry="4.3"/>
<ellipse cx="316.8" cy="381.1" rx="5.5" ry="4.3"/>
<ellipse cx="327.3" cy="380.0" rx="5.5" ry="4.3"/>
<ellipse cx="325.0" cy="380.3" rx="5.5" ry="4.3"/>
<ellipse cx="330.0" cy="381.6" rx="5.5" ry="4.3"/>
<ellipse cx="338.4" cy="381.9" rx="5.5" ry="4.3"/>
<ellipse cx="337.3" cy="381.7" rx="5.5" ry="4.3"/>
<ellipse cx="316.0" cy="381.6" rx="5.5" ry="4.3"/>
<ellipse cx="335.8" cy="379.4" rx="5.5" ry="4.3"/>
<ellipse cx="316.1" cy="380.9" rx="5.5" ry="4.3"/>
<ellipse cx="328.8" cy="380.0" rx="5.5" ry="4.3"/>
<ellipse cx="320.8" cy="380.9" rx="5.5" ry="4.3"/>
<ellipse cx="325.0" cy="379.9" rx="5.5" ry="4.3"/>
<ellipse cx="322.8" cy="379.5" rx="5.5" ry="4.3"/>
<ellipse cx="323.4" cy="381.6" rx="5.5" ry="4.3"/>
<ellipse cx="334.2" cy="380.9" rx="5.5" ry="4.3"/>
<ellipse cx="318.9" cy="380.5" rx="5.5" ry="4.3"/>
<ellipse cx="318.1" cy="380.0" rx="5.5" ry="4.3"/>
<ellipse cx="334.1" cy="380.0" rx="5.5" ry="4.3"/>
<ellipse cx="352.6" cy="379.7" rx="5.5" ry="4.3"/>
<ellipse cx="348.0" cy="379.4" rx="5.5" ry="4.3"/>
<ellipse cx="357.8" cy="381.2" rx="5.5" ry="4.3"/>
<ellipse cx="357.8" cy="381.4" rx="5.5" ry="4.3"/>
<ellipse cx="344.1" cy="380.3" rx="5.5" ry="4.3"/>
<ellipse cx="358.0" cy="378.7" rx="5.5" ry="4.3"/>
<ellipse cx="347.6" cy="375.8" rx="5.5" ry="4.3"/>
<ellipse cx="344.7" cy="379.0" rx="5.5" ry="4.3"/>
<ellipse cx="350.6" cy="376.9" rx="5.5" ry="4.3"/>
<ellipse cx="355.1" cy="377.7" rx="5.5" ry="4.3"/>
<ellipse cx="347.0" cy="379.9" rx="5.5" ry="4.3"/>
<ellipse cx="343.1" cy="376.2" rx="5.5" ry="4.3"/>
<ellipse cx="353.2" cy="377.0" rx="5.5" ry="4.3"/>
<ellipse cx="343.4" cy="379.1" rx="5.5" ry="4.3"/>
<ellipse cx="355.5" cy="378.2" rx="5.5" ry="4.3"/>
<ellipse cx="342.5" cy="379.0" rx="5.5" ry="4.3"/>
<ellipse cx="357.7" cy="380.4" rx="5.5" ry="4.3"/>
<ellipse cx="343.8" cy="380.0" rx="5.5" ry="4.3"/>
<ellipse cx="354.1" cy="376.2" rx="5.5" ry="4.3"/>
<ellipse cx="343.1" cy="380.9" rx="5.5" ry="4.3"/>
<ellipse cx="345.0" cy="379.9" rx="5.5" ry="4.3"/>
<ellipse cx="350.4" cy="380.8" rx="5.5" ry="4.3"/>
<ellipse cx="346.6" cy="380.7" rx="5.5" ry="4.3"/>
<ellipse cx="359.5" cy="377.1" rx="5.5" ry="4.3"/>
<ellipse cx="342.0" cy="375.2" rx="5.5" ry="4.3"/>
<ellipse cx="342.0" cy="379.5" rx="5.5" ry="4.3"/>
<ellipse cx="359.7" cy="376.5" rx="5.5" ry="4.3"/>
<ellipse cx="354.7" cy="379.2" rx="5.5" ry="4.3"/>
<ellipse cx="343.9" cy="377.7" rx="5.5" ry="4.3"/>
<ellipse cx="342.1" cy="380.6" rx="5.5" ry="4.3"/>
<ellipse cx="347.8" cy="381.4" rx="5.5" ry="4.3"/>
<ellipse cx="348.0" cy="376.6" rx="5.5" ry="4.3"/>
<ellipse cx="353.9" cy="378.7" rx="5.5" ry="4.3"/>
<ellipse cx="352.6" cy="379.0" rx="5.5" ry="4.3"/>
<ellipse cx="342.8" cy="378.0" rx="5.5" ry="4.3"/>
<ellipse cx="348.1" cy="377.0" rx="5.5" ry="4.3"/>
<ellipse cx="358.2" cy="379.2" rx="5.5" ry="4.3"/>
<ellipse cx="351.5" cy="376.9" rx="5.5" ry="4.3"/>
<ellipse cx="348.4" cy="380.5" rx="5.5" ry="4.3"/>
<ellipse cx="354.4" cy="375.9" rx="5.5" ry="4.3"/>
<ellipse cx="355.5" cy="377.3" rx="5.5" ry="4.3"/>
<ellipse cx="357.0" cy="377.4" rx="5.5" ry="4.3"/>
<ellipse cx="352.8" cy="379.0" rx="5.5" ry="4.3"/>
<ellipse cx="346.3" cy="377.8" rx="5.5" ry="4.3"/>
<ellipse cx="342.0" cy="379.3" rx="5.5" ry="4.3"/>
</g>
<path d="M300.5 382.4H457.7" stroke="#333" stroke-width="1.7" fill="none"/>
<g font-family="'Liberation Sans', Arial, Helvetica, sans-serif" font-size="18.7" fill="#111" stroke="#111" stroke-width="0.3">
<text text-anchor="end" transform="translate(292.3 236.7) scale(1.175 1)">3</text>
<text text-anchor="end" transform="translate(292.3 287.8) scale(1.175 1)">2</text>
<text text-anchor="end" transform="translate(292.3 339.0) scale(1.175 1)">1</text>
<text text-anchor="end" transform="translate(292.3 390.1) scale(1.175 1)">0</text>
<text text-anchor="middle" transform="translate(301.1 409.6) scale(1.175 1)">0</text>
<text text-anchor="middle" transform="translate(379.2 409.6) scale(1.175 1)">10</text>
<text text-anchor="middle" transform="translate(457.2 409.6) scale(1.175 1)">20</text>
</g>
<text font-family="'Liberation Sans', Arial, Helvetica, sans-serif" font-size="25.0" fill="#111" stroke="#111" stroke-width="0.25" text-anchor="middle" transform="translate(267.0 305.1) rotate(-90) scale(0.832 1)">Agent 5</text>
</g>
<text font-family="'Liberation Serif', 'Times New Roman', serif" font-size="21.6" fill="#1a1a1a" text-anchor="middle" transform="translate(378.7 433.9) scale(1.28 1)">Time(Sec)</text>
</svg>
</body>
</html>
